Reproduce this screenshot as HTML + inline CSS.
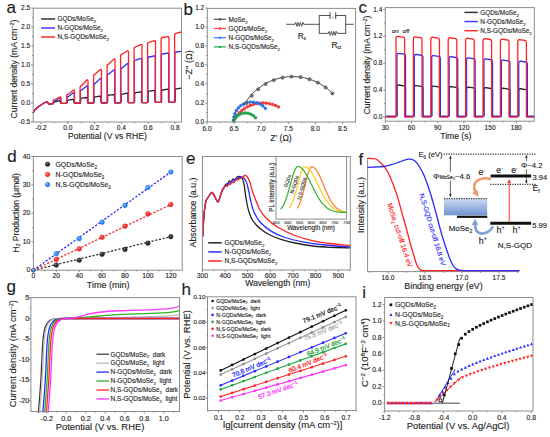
<!DOCTYPE html>
<html><head><meta charset="utf-8"><style>
html,body{margin:0;padding:0;background:#fff;}
svg{display:block;}
text{font-family:"Liberation Sans",sans-serif;}
</style></head><body>
<svg width="550" height="437" viewBox="0 0 550 437">
<rect width="550" height="437" fill="#fff"/>
<g id="a">
<text x="6.5" y="13.3" font-size="17" text-anchor="start" fill="#1e1e1e"  stroke="#1e1e1e" stroke-width="0.13">a</text>
<line x1="31.2" y1="122" x2="33.2" y2="122" stroke="#8c8c8c" stroke-width="1" />
<text x="30.2" y="124.1" font-size="6.6" text-anchor="end" fill="#1e1e1e"  stroke="#1e1e1e" stroke-width="0.13">-0.5</text>
<line x1="31.2" y1="103" x2="33.2" y2="103" stroke="#8c8c8c" stroke-width="1" />
<text x="30.2" y="105.1" font-size="6.6" text-anchor="end" fill="#1e1e1e"  stroke="#1e1e1e" stroke-width="0.13">0.0</text>
<line x1="31.2" y1="84" x2="33.2" y2="84" stroke="#8c8c8c" stroke-width="1" />
<text x="30.2" y="86.1" font-size="6.6" text-anchor="end" fill="#1e1e1e"  stroke="#1e1e1e" stroke-width="0.13">0.5</text>
<line x1="31.2" y1="65" x2="33.2" y2="65" stroke="#8c8c8c" stroke-width="1" />
<text x="30.2" y="67.1" font-size="6.6" text-anchor="end" fill="#1e1e1e"  stroke="#1e1e1e" stroke-width="0.13">1.0</text>
<line x1="31.2" y1="46" x2="33.2" y2="46" stroke="#8c8c8c" stroke-width="1" />
<text x="30.2" y="48.1" font-size="6.6" text-anchor="end" fill="#1e1e1e"  stroke="#1e1e1e" stroke-width="0.13">1.5</text>
<line x1="31.2" y1="27" x2="33.2" y2="27" stroke="#8c8c8c" stroke-width="1" />
<text x="30.2" y="29.1" font-size="6.6" text-anchor="end" fill="#1e1e1e"  stroke="#1e1e1e" stroke-width="0.13">2.0</text>
<line x1="31.2" y1="8" x2="33.2" y2="8" stroke="#8c8c8c" stroke-width="1" />
<text x="30.2" y="10.1" font-size="6.6" text-anchor="end" fill="#1e1e1e"  stroke="#1e1e1e" stroke-width="0.13">2.5</text>
<line x1="32" y1="112.5" x2="33.2" y2="112.5" stroke="#8c8c8c" stroke-width="1" />
<line x1="32" y1="93.5" x2="33.2" y2="93.5" stroke="#8c8c8c" stroke-width="1" />
<line x1="32" y1="74.5" x2="33.2" y2="74.5" stroke="#8c8c8c" stroke-width="1" />
<line x1="32" y1="55.5" x2="33.2" y2="55.5" stroke="#8c8c8c" stroke-width="1" />
<line x1="32" y1="36.5" x2="33.2" y2="36.5" stroke="#8c8c8c" stroke-width="1" />
<line x1="32" y1="17.5" x2="33.2" y2="17.5" stroke="#8c8c8c" stroke-width="1" />
<line x1="41" y1="122" x2="41" y2="124" stroke="#8c8c8c" stroke-width="1" />
<text x="41" y="130.2" font-size="6.6" text-anchor="middle" fill="#1e1e1e"  stroke="#1e1e1e" stroke-width="0.13">-0.2</text>
<line x1="67.8" y1="122" x2="67.8" y2="124" stroke="#8c8c8c" stroke-width="1" />
<text x="67.8" y="130.2" font-size="6.6" text-anchor="middle" fill="#1e1e1e"  stroke="#1e1e1e" stroke-width="0.13">0.0</text>
<line x1="94.6" y1="122" x2="94.6" y2="124" stroke="#8c8c8c" stroke-width="1" />
<text x="94.6" y="130.2" font-size="6.6" text-anchor="middle" fill="#1e1e1e"  stroke="#1e1e1e" stroke-width="0.13">0.2</text>
<line x1="121.4" y1="122" x2="121.4" y2="124" stroke="#8c8c8c" stroke-width="1" />
<text x="121.4" y="130.2" font-size="6.6" text-anchor="middle" fill="#1e1e1e"  stroke="#1e1e1e" stroke-width="0.13">0.4</text>
<line x1="148.2" y1="122" x2="148.2" y2="124" stroke="#8c8c8c" stroke-width="1" />
<text x="148.2" y="130.2" font-size="6.6" text-anchor="middle" fill="#1e1e1e"  stroke="#1e1e1e" stroke-width="0.13">0.6</text>
<line x1="175" y1="122" x2="175" y2="124" stroke="#8c8c8c" stroke-width="1" />
<text x="175" y="130.2" font-size="6.6" text-anchor="middle" fill="#1e1e1e"  stroke="#1e1e1e" stroke-width="0.13">0.8</text>
<line x1="54.4" y1="122" x2="54.4" y2="123.2" stroke="#8c8c8c" stroke-width="1" />
<line x1="81.2" y1="122" x2="81.2" y2="123.2" stroke="#8c8c8c" stroke-width="1" />
<line x1="108" y1="122" x2="108" y2="123.2" stroke="#8c8c8c" stroke-width="1" />
<line x1="134.8" y1="122" x2="134.8" y2="123.2" stroke="#8c8c8c" stroke-width="1" />
<line x1="161.6" y1="122" x2="161.6" y2="123.2" stroke="#8c8c8c" stroke-width="1" />
<text transform="translate(17,69) rotate(-90)" font-size="8.6" text-anchor="middle" fill="#1e1e1e" stroke="#1e1e1e" stroke-width="0.13">Current density (mA cm<tspan dy="-3" font-size="5.5">−2</tspan><tspan dy="3">)</tspan></text>
<text x="68" y="139.1" font-size="8.6" text-anchor="start" fill="#1e1e1e"  stroke="#1e1e1e" stroke-width="0.13">Potential (V vs RHE)</text>
<polyline points="33.4,112.6 35,109.8 38,107 41,105 44,103 47.2,101.6 48.8,104.2 53.3,103.6 53.6,102.4 53.6,103.1 54.1,102.1 54.9,101.9 59.6,100.7 60.3,101.2 60.5,102.1 60.5,102.4 61,103.4 61.4,103.4 66.2,103.33 66.7,103.3 67.1,102.26 67.1,101.4 67.6,100.4 68.4,100.2 73.1,99.3 73.8,99.8 74,100.7 74,102.26 74.5,103.26 74.9,103.26 79.7,103.19 80.2,103.16 80.6,102.12 80.6,99.4 81.1,98.4 81.9,98.2 86.6,97.5 87.3,98 87.5,98.9 87.5,102.12 88,103.12 88.4,103.12 93.2,103.05 93.7,103.02 94.1,101.98 94.1,98 94.6,97 95.4,96.8 100.1,96.1 100.8,96.6 101,97.5 101,101.98 101.5,102.98 101.9,102.98 106.7,102.91 107.2,102.88 107.6,101.84 107.6,96.4 108.1,95.4 108.9,95.2 113.6,94.6 114.3,95.1 114.5,96 114.5,101.84 115,102.84 115.4,102.84 120.2,102.77 120.7,102.74 121.1,101.7 121.1,95.3 121.6,94.3 122.4,94.1 127.1,93.2 127.8,93.7 128,94.6 128,101.7 128.5,102.7 128.9,102.7 133.7,102.63 134.2,102.6 134.6,101.56 134.6,93.9 135.1,92.9 135.9,92.7 140.6,91.8 141.3,92.3 141.5,93.2 141.5,101.56 142,102.56 142.4,102.56 147.2,102.49 147.7,102.46 148.1,101.42 148.1,92.4 148.6,91.4 149.4,91.2 154.1,90.3 154.8,90.8 155,91.7 155,101.42 155.5,102.42 155.9,102.42 160.7,102.35 161.2,102.32 161.6,101.28 161.6,91.2 162.1,90.2 162.9,90 167.6,89.2 168.3,89.7 168.5,90.6 168.5,101.28 169,102.28 169.4,102.28 174.2,102.21 174.7,102.18 175.1,101.14 175.1,90.1 175.6,89.1 176.4,88.9 181.3,88.1" fill="none" stroke="#222" stroke-width="1.3" stroke-linejoin="round" stroke-linecap="round" />
<polyline points="33.4,112.6 35,109.8 38,107 41,105 44,103 47.2,101.6 48.8,104.2 53.3,103.6 53.35,102.4 53.35,102.4 53.85,101.4 54.65,101.2 59.85,98.3 60.55,98.8 60.75,99.7 60.75,102.4 61.25,103.4 61.65,103.4 65.95,103.33 66.45,103.3 66.85,102.26 66.85,97.9 67.35,96.9 68.15,96.7 73.35,92.7 74.05,93.2 74.25,94.1 74.25,102.26 74.75,103.26 75.15,103.26 79.45,103.19 79.95,103.16 80.35,102.12 80.35,91.2 80.85,90.2 81.65,90 86.85,85.9 87.55,86.4 87.75,87.3 87.75,102.12 88.25,103.12 88.65,103.12 92.95,103.05 93.45,103.02 93.85,101.98 93.85,84.7 94.35,83.7 95.15,83.5 100.35,78.4 101.05,78.9 101.25,79.8 101.25,101.98 101.75,102.98 102.15,102.98 106.45,102.91 106.95,102.88 107.35,101.84 107.35,75.2 107.85,74.2 108.65,74 113.85,69.9 114.55,70.4 114.75,71.3 114.75,101.84 115.25,102.84 115.65,102.84 119.95,102.77 120.45,102.74 120.85,101.7 120.85,69.2 121.35,68.2 122.15,68 127.35,63.5 128.05,64 128.25,64.9 128.25,101.7 128.75,102.7 129.15,102.7 133.45,102.63 133.95,102.6 134.35,101.56 134.35,61.3 134.85,60.3 135.65,60.1 140.85,58.4 141.55,58.9 141.75,59.8 141.75,101.56 142.25,102.56 142.65,102.56 146.95,102.49 147.45,102.46 147.85,101.42 147.85,58.2 148.35,57.2 149.15,57 154.35,55.8 155.05,56.3 155.25,57.2 155.25,101.42 155.75,102.42 156.15,102.42 160.45,102.35 160.95,102.32 161.35,101.28 161.35,55.2 161.85,54.2 162.65,54 167.85,53.1 168.55,53.6 168.75,54.5 168.75,101.28 169.25,102.28 169.65,102.28 173.95,102.21 174.45,102.18 174.85,101.14 174.85,53.2 175.35,52.2 176.15,52 181.3,51.3" fill="none" stroke="#2b2bff" stroke-width="1.3" stroke-linejoin="round" stroke-linecap="round" />
<polyline points="33.4,112.6 35,109.8 38,107 41,105 44,103 47.2,101.6 48.8,104.2 53.3,103.6 53.1,102.4 53.1,101 53.6,100 54.4,99.8 60.1,96.7 60.8,97.2 61,98.1 61,102.4 61.5,103.4 61.9,103.4 65.7,103.33 66.2,103.3 66.6,102.26 66.6,95.6 67.1,94.6 67.9,94.4 73.6,89.9 74.3,90.4 74.5,91.3 74.5,102.26 75,103.26 75.4,103.26 79.2,103.19 79.7,103.16 80.1,102.12 80.1,87 80.6,86 81.4,85.8 87.1,79.8 87.8,80.3 88,81.2 88,102.12 88.5,103.12 88.9,103.12 92.7,103.05 93.2,103.02 93.6,101.98 93.6,75.5 94.1,74.5 94.9,74.3 100.6,69.3 101.3,69.8 101.5,70.7 101.5,101.98 102,102.98 102.4,102.98 106.2,102.91 106.7,102.88 107.1,101.84 107.1,65.5 107.6,64.5 108.4,64.3 114.1,58.9 114.8,59.4 115,60.3 115,101.84 115.5,102.84 115.9,102.84 119.7,102.77 120.2,102.74 120.6,101.7 120.6,55.5 121.1,54.5 121.9,54.3 127.6,50.7 128.3,51.2 128.5,52.1 128.5,101.7 129,102.7 129.4,102.7 133.2,102.63 133.7,102.6 134.1,101.56 134.1,48.2 134.6,47.2 135.4,47 141.1,44.3 141.8,44.8 142,45.7 142,101.56 142.5,102.56 142.9,102.56 146.7,102.49 147.2,102.46 147.6,101.42 147.6,43.6 148.1,42.6 148.9,42.4 154.6,40.6 155.3,41.1 155.5,42 155.5,101.42 156,102.42 156.4,102.42 160.2,102.35 160.7,102.32 161.1,101.28 161.1,38.7 161.6,37.7 162.4,37.5 168.1,36.6 168.8,37.1 169,38 169,101.28 169.5,102.28 169.9,102.28 173.7,102.21 174.2,102.18 174.6,101.14 174.6,34.6 175.1,33.6 175.9,33.4 181.3,32" fill="none" stroke="#ff2222" stroke-width="1.3" stroke-linejoin="round" stroke-linecap="round" />
<rect x="33.2" y="8.2" width="148.3" height="113.8" fill="none" stroke="#8c8c8c" stroke-width="1"/>
<line x1="41.1" y1="19" x2="55.1" y2="19" stroke="#333" stroke-width="1.5" />
<text x="57.5" y="21.3" font-size="6.4" fill="#1e1e1e" stroke="#1e1e1e" stroke-width="0.13">GQDs/MoSe<tspan dy="1.9" font-size="4.4">2</tspan></text>
<line x1="41.1" y1="28" x2="55.1" y2="28" stroke="#3b3bff" stroke-width="1.5" />
<text x="57.5" y="30.3" font-size="6.4" fill="#1e1e1e" stroke="#1e1e1e" stroke-width="0.13">N-GQDs/MoSe<tspan dy="1.9" font-size="4.4">2</tspan></text>
<line x1="41.1" y1="37" x2="55.1" y2="37" stroke="#ff2a2a" stroke-width="1.5" />
<text x="57.5" y="39.3" font-size="6.4" fill="#1e1e1e" stroke="#1e1e1e" stroke-width="0.13">N,S-GQDs/MoSe<tspan dy="1.9" font-size="4.4">2</tspan></text>
</g>
<g id="b">
<text x="183.5" y="15.3" font-size="17" text-anchor="start" fill="#1e1e1e"  stroke="#1e1e1e" stroke-width="0.13">b</text>
<line x1="205.3" y1="122" x2="207.3" y2="122" stroke="#8c8c8c" stroke-width="1" />
<text x="204.3" y="124.1" font-size="6.6" text-anchor="end" fill="#1e1e1e"  stroke="#1e1e1e" stroke-width="0.13">0.0</text>
<line x1="205.3" y1="103" x2="207.3" y2="103" stroke="#8c8c8c" stroke-width="1" />
<text x="204.3" y="105.1" font-size="6.6" text-anchor="end" fill="#1e1e1e"  stroke="#1e1e1e" stroke-width="0.13">0.2</text>
<line x1="205.3" y1="84" x2="207.3" y2="84" stroke="#8c8c8c" stroke-width="1" />
<text x="204.3" y="86.1" font-size="6.6" text-anchor="end" fill="#1e1e1e"  stroke="#1e1e1e" stroke-width="0.13">0.4</text>
<line x1="205.3" y1="65" x2="207.3" y2="65" stroke="#8c8c8c" stroke-width="1" />
<text x="204.3" y="67.1" font-size="6.6" text-anchor="end" fill="#1e1e1e"  stroke="#1e1e1e" stroke-width="0.13">0.6</text>
<line x1="205.3" y1="46" x2="207.3" y2="46" stroke="#8c8c8c" stroke-width="1" />
<text x="204.3" y="48.1" font-size="6.6" text-anchor="end" fill="#1e1e1e"  stroke="#1e1e1e" stroke-width="0.13">0.8</text>
<line x1="205.3" y1="27" x2="207.3" y2="27" stroke="#8c8c8c" stroke-width="1" />
<text x="204.3" y="29.1" font-size="6.6" text-anchor="end" fill="#1e1e1e"  stroke="#1e1e1e" stroke-width="0.13">1.0</text>
<line x1="205.3" y1="8" x2="207.3" y2="8" stroke="#8c8c8c" stroke-width="1" />
<text x="204.3" y="10.1" font-size="6.6" text-anchor="end" fill="#1e1e1e"  stroke="#1e1e1e" stroke-width="0.13">1.2</text>
<line x1="206.1" y1="112.5" x2="207.3" y2="112.5" stroke="#8c8c8c" stroke-width="1" />
<line x1="206.1" y1="93.5" x2="207.3" y2="93.5" stroke="#8c8c8c" stroke-width="1" />
<line x1="206.1" y1="74.5" x2="207.3" y2="74.5" stroke="#8c8c8c" stroke-width="1" />
<line x1="206.1" y1="55.5" x2="207.3" y2="55.5" stroke="#8c8c8c" stroke-width="1" />
<line x1="206.1" y1="36.5" x2="207.3" y2="36.5" stroke="#8c8c8c" stroke-width="1" />
<line x1="206.1" y1="17.5" x2="207.3" y2="17.5" stroke="#8c8c8c" stroke-width="1" />
<line x1="207" y1="122" x2="207" y2="124" stroke="#8c8c8c" stroke-width="1" />
<text x="207" y="131" font-size="6.6" text-anchor="middle" fill="#1e1e1e"  stroke="#1e1e1e" stroke-width="0.13">6.0</text>
<line x1="234.1" y1="122" x2="234.1" y2="124" stroke="#8c8c8c" stroke-width="1" />
<text x="234.1" y="131" font-size="6.6" text-anchor="middle" fill="#1e1e1e"  stroke="#1e1e1e" stroke-width="0.13">6.5</text>
<line x1="261.2" y1="122" x2="261.2" y2="124" stroke="#8c8c8c" stroke-width="1" />
<text x="261.2" y="131" font-size="6.6" text-anchor="middle" fill="#1e1e1e"  stroke="#1e1e1e" stroke-width="0.13">7.0</text>
<line x1="288.3" y1="122" x2="288.3" y2="124" stroke="#8c8c8c" stroke-width="1" />
<text x="288.3" y="131" font-size="6.6" text-anchor="middle" fill="#1e1e1e"  stroke="#1e1e1e" stroke-width="0.13">7.5</text>
<line x1="315.4" y1="122" x2="315.4" y2="124" stroke="#8c8c8c" stroke-width="1" />
<text x="315.4" y="131" font-size="6.6" text-anchor="middle" fill="#1e1e1e"  stroke="#1e1e1e" stroke-width="0.13">8.0</text>
<line x1="342.5" y1="122" x2="342.5" y2="124" stroke="#8c8c8c" stroke-width="1" />
<text x="342.5" y="131" font-size="6.6" text-anchor="middle" fill="#1e1e1e"  stroke="#1e1e1e" stroke-width="0.13">8.5</text>
<line x1="220.55" y1="122" x2="220.55" y2="123.2" stroke="#8c8c8c" stroke-width="1" />
<line x1="247.65" y1="122" x2="247.65" y2="123.2" stroke="#8c8c8c" stroke-width="1" />
<line x1="274.75" y1="122" x2="274.75" y2="123.2" stroke="#8c8c8c" stroke-width="1" />
<line x1="301.85" y1="122" x2="301.85" y2="123.2" stroke="#8c8c8c" stroke-width="1" />
<line x1="328.95" y1="122" x2="328.95" y2="123.2" stroke="#8c8c8c" stroke-width="1" />
<text transform="translate(192.3,65) rotate(-90)" font-size="9" text-anchor="middle" fill="#1e1e1e" stroke="#1e1e1e" stroke-width="0.13">−Z'' (Ω)</text>
<text x="281" y="141" font-size="8.6" text-anchor="middle" fill="#1e1e1e"  stroke="#1e1e1e" stroke-width="0.13">Z' (Ω)</text>
<polyline points="233.7,120.5 235.37,117.71 237.31,115.1 239.49,112.7 241.89,110.52 244.5,108.58 247.29,106.91 250.23,105.52 253.28,104.43 256.44,103.64 259.65,103.16 262.89,103 266.14,103.16 269.35,103.63 272.5,104.42 275.56,105.51 278.5,106.9" fill="none" stroke="#ff4040" stroke-width="1.0" stroke-linejoin="round" stroke-linecap="round" />
<circle cx="233.7" cy="120.5" r="1.4" fill="#ff4040" stroke="#cc2020" stroke-width="0.5"/>
<circle cx="235.37" cy="117.71" r="1.4" fill="#ff4040" stroke="#cc2020" stroke-width="0.5"/>
<circle cx="237.31" cy="115.1" r="1.4" fill="#ff4040" stroke="#cc2020" stroke-width="0.5"/>
<circle cx="239.49" cy="112.7" r="1.4" fill="#ff4040" stroke="#cc2020" stroke-width="0.5"/>
<circle cx="241.89" cy="110.52" r="1.4" fill="#ff4040" stroke="#cc2020" stroke-width="0.5"/>
<circle cx="244.5" cy="108.58" r="1.4" fill="#ff4040" stroke="#cc2020" stroke-width="0.5"/>
<circle cx="247.29" cy="106.91" r="1.4" fill="#ff4040" stroke="#cc2020" stroke-width="0.5"/>
<circle cx="250.23" cy="105.52" r="1.4" fill="#ff4040" stroke="#cc2020" stroke-width="0.5"/>
<circle cx="253.28" cy="104.43" r="1.4" fill="#ff4040" stroke="#cc2020" stroke-width="0.5"/>
<circle cx="256.44" cy="103.64" r="1.4" fill="#ff4040" stroke="#cc2020" stroke-width="0.5"/>
<circle cx="259.65" cy="103.16" r="1.4" fill="#ff4040" stroke="#cc2020" stroke-width="0.5"/>
<circle cx="262.89" cy="103" r="1.4" fill="#ff4040" stroke="#cc2020" stroke-width="0.5"/>
<circle cx="266.14" cy="103.16" r="1.4" fill="#ff4040" stroke="#cc2020" stroke-width="0.5"/>
<circle cx="269.35" cy="103.63" r="1.4" fill="#ff4040" stroke="#cc2020" stroke-width="0.5"/>
<circle cx="272.5" cy="104.42" r="1.4" fill="#ff4040" stroke="#cc2020" stroke-width="0.5"/>
<circle cx="275.56" cy="105.51" r="1.4" fill="#ff4040" stroke="#cc2020" stroke-width="0.5"/>
<circle cx="278.5" cy="106.9" r="1.4" fill="#ff4040" stroke="#cc2020" stroke-width="0.5"/>
<polyline points="233.7,120.5 233.93,117.1 234.79,113.8 236.26,110.73 238.29,107.99 240.79,105.68 243.69,103.88 246.88,102.67 250.23,102.07 253.64,102.13 256.98,102.82 260.12,104.13 262.97,106.01 265.4,108.4" fill="none" stroke="#2f7fff" stroke-width="1.0" stroke-linejoin="round" stroke-linecap="round" />
<circle cx="233.7" cy="120.5" r="1.4" fill="#2f7fff" stroke="#1050d0" stroke-width="0.5"/>
<circle cx="233.93" cy="117.1" r="1.4" fill="#2f7fff" stroke="#1050d0" stroke-width="0.5"/>
<circle cx="234.79" cy="113.8" r="1.4" fill="#2f7fff" stroke="#1050d0" stroke-width="0.5"/>
<circle cx="236.26" cy="110.73" r="1.4" fill="#2f7fff" stroke="#1050d0" stroke-width="0.5"/>
<circle cx="238.29" cy="107.99" r="1.4" fill="#2f7fff" stroke="#1050d0" stroke-width="0.5"/>
<circle cx="240.79" cy="105.68" r="1.4" fill="#2f7fff" stroke="#1050d0" stroke-width="0.5"/>
<circle cx="243.69" cy="103.88" r="1.4" fill="#2f7fff" stroke="#1050d0" stroke-width="0.5"/>
<circle cx="246.88" cy="102.67" r="1.4" fill="#2f7fff" stroke="#1050d0" stroke-width="0.5"/>
<circle cx="250.23" cy="102.07" r="1.4" fill="#2f7fff" stroke="#1050d0" stroke-width="0.5"/>
<circle cx="253.64" cy="102.13" r="1.4" fill="#2f7fff" stroke="#1050d0" stroke-width="0.5"/>
<circle cx="256.98" cy="102.82" r="1.4" fill="#2f7fff" stroke="#1050d0" stroke-width="0.5"/>
<circle cx="260.12" cy="104.13" r="1.4" fill="#2f7fff" stroke="#1050d0" stroke-width="0.5"/>
<circle cx="262.97" cy="106.01" r="1.4" fill="#2f7fff" stroke="#1050d0" stroke-width="0.5"/>
<circle cx="265.4" cy="108.4" r="1.4" fill="#2f7fff" stroke="#1050d0" stroke-width="0.5"/>
<polyline points="233.7,121 235.11,118.41 237.07,116.21 239.49,114.52 242.23,113.43 245.15,113 248.09,113.26 250.89,114.18 253.41,115.72 255.5,117.8" fill="none" stroke="#22aa55" stroke-width="1.0" stroke-linejoin="round" stroke-linecap="round" />
<circle cx="233.7" cy="121" r="1.4" fill="#22aa55" stroke="#118833" stroke-width="0.5"/>
<circle cx="235.11" cy="118.41" r="1.4" fill="#22aa55" stroke="#118833" stroke-width="0.5"/>
<circle cx="237.07" cy="116.21" r="1.4" fill="#22aa55" stroke="#118833" stroke-width="0.5"/>
<circle cx="239.49" cy="114.52" r="1.4" fill="#22aa55" stroke="#118833" stroke-width="0.5"/>
<circle cx="242.23" cy="113.43" r="1.4" fill="#22aa55" stroke="#118833" stroke-width="0.5"/>
<circle cx="245.15" cy="113" r="1.4" fill="#22aa55" stroke="#118833" stroke-width="0.5"/>
<circle cx="248.09" cy="113.26" r="1.4" fill="#22aa55" stroke="#118833" stroke-width="0.5"/>
<circle cx="250.89" cy="114.18" r="1.4" fill="#22aa55" stroke="#118833" stroke-width="0.5"/>
<circle cx="253.41" cy="115.72" r="1.4" fill="#22aa55" stroke="#118833" stroke-width="0.5"/>
<circle cx="255.5" cy="117.8" r="1.4" fill="#22aa55" stroke="#118833" stroke-width="0.5"/>
<polyline points="243.5,106 244.82,103.67 246.25,101.4 247.79,99.21 249.43,97.09 251.17,95.06 253.01,93.11 254.93,91.25 256.95,89.48 259.05,87.82 261.23,86.26 263.48,84.8 265.79,83.46 268.17,82.22 270.61,81.11 273.09,80.11 275.62,79.23 278.19,78.48 280.8,77.85 283.43,77.35 286.08,76.97 288.75,76.72 291.43,76.61 294.1,76.61 296.78,76.75 299.44,77.02 302.09,77.42 304.72,77.94 307.32,78.59 309.89,79.36 312.41,80.26 314.89,81.27 317.32,82.41 319.69,83.66 321.99,85.02 324.23,86.49 326.4,88.07 328.48,89.75 330.48,91.53 332.4,93.4" fill="none" stroke="#444" stroke-width="1.0" stroke-linejoin="round" stroke-linecap="round" />
<circle cx="246.4" cy="103" r="1.6" fill="#777" stroke="#333" stroke-width="0.5"/>
<circle cx="251.72" cy="95.64" r="1.6" fill="#777" stroke="#333" stroke-width="0.5"/>
<circle cx="258.18" cy="89.26" r="1.6" fill="#777" stroke="#333" stroke-width="0.5"/>
<circle cx="265.61" cy="84.05" r="1.6" fill="#777" stroke="#333" stroke-width="0.5"/>
<circle cx="273.81" cy="80.14" r="1.6" fill="#777" stroke="#333" stroke-width="0.5"/>
<circle cx="282.54" cy="77.65" r="1.6" fill="#777" stroke="#333" stroke-width="0.5"/>
<circle cx="291.56" cy="76.64" r="1.6" fill="#777" stroke="#333" stroke-width="0.5"/>
<circle cx="300.63" cy="77.15" r="1.6" fill="#777" stroke="#333" stroke-width="0.5"/>
<circle cx="309.48" cy="79.15" r="1.6" fill="#777" stroke="#333" stroke-width="0.5"/>
<circle cx="317.88" cy="82.6" r="1.6" fill="#777" stroke="#333" stroke-width="0.5"/>
<circle cx="325.59" cy="87.39" r="1.6" fill="#777" stroke="#333" stroke-width="0.5"/>
<circle cx="332.4" cy="93.4" r="1.6" fill="#777" stroke="#333" stroke-width="0.5"/>
<rect x="207.3" y="8.4" width="148.3" height="113.6" fill="none" stroke="#8c8c8c" stroke-width="1"/>
<line x1="213.7" y1="19.3" x2="226.1" y2="19.3" stroke="#555" stroke-width="1.2" />
<circle cx="220" cy="19.3" r="1.2" fill="#555"/>
<text x="228.6" y="21.6" font-size="6.4" fill="#1e1e1e" stroke="#1e1e1e" stroke-width="0.13">MoSe<tspan dy="1.9" font-size="4.4">2</tspan></text>
<line x1="213.7" y1="28.5" x2="226.1" y2="28.5" stroke="#ff4040" stroke-width="1.2" />
<circle cx="220" cy="28.5" r="1.2" fill="#ff4040"/>
<text x="228.6" y="30.8" font-size="6.4" fill="#1e1e1e" stroke="#1e1e1e" stroke-width="0.13">GQDs/MoSe<tspan dy="1.9" font-size="4.4">2</tspan></text>
<line x1="213.7" y1="37.7" x2="226.1" y2="37.7" stroke="#2f7fff" stroke-width="1.2" />
<circle cx="220" cy="37.7" r="1.2" fill="#2f7fff"/>
<text x="228.6" y="40" font-size="6.4" fill="#1e1e1e" stroke="#1e1e1e" stroke-width="0.13">N-GQDs/MoSe<tspan dy="1.9" font-size="4.4">2</tspan></text>
<line x1="213.7" y1="46.9" x2="226.1" y2="46.9" stroke="#22aa55" stroke-width="1.2" />
<circle cx="220" cy="46.9" r="1.2" fill="#22aa55"/>
<text x="228.6" y="49.2" font-size="6.4" fill="#1e1e1e" stroke="#1e1e1e" stroke-width="0.13">N,S-GQDs/MoSe<tspan dy="1.9" font-size="4.4">2</tspan></text>
<polyline points="286.5,24.3 294.5,24.3" fill="none" stroke="#555" stroke-width="1.0" stroke-linejoin="round" stroke-linecap="round" />
<polyline points="294.5,24.3 295.69,22.3 296.88,26.3 298.06,22.3 299.25,26.3 300.44,22.3 301.62,26.3 302.81,22.3 304,24.3" fill="none" stroke="#555" stroke-width="1.0" stroke-linejoin="round" stroke-linecap="round" />
<polyline points="304,24.3 319.3,24.3" fill="none" stroke="#555" stroke-width="1.0" stroke-linejoin="round" stroke-linecap="round" />
<polyline points="319.3,15.5 319.3,33.4" fill="none" stroke="#555" stroke-width="1.0" stroke-linejoin="round" stroke-linecap="round" />
<polyline points="345.7,15.5 345.7,33.4" fill="none" stroke="#555" stroke-width="1.0" stroke-linejoin="round" stroke-linecap="round" />
<polyline points="319.3,15.5 330,15.5" fill="none" stroke="#555" stroke-width="1.0" stroke-linejoin="round" stroke-linecap="round" />
<polyline points="335.7,15.5 345.7,15.5" fill="none" stroke="#555" stroke-width="1.0" stroke-linejoin="round" stroke-linecap="round" />
<polyline points="330,12.8 330,18.5" fill="none" stroke="#555" stroke-width="1.1" stroke-linejoin="round" stroke-linecap="round" />
<polyline points="335.7,12.8 335.7,18.5" fill="none" stroke="#555" stroke-width="1.1" stroke-linejoin="round" stroke-linecap="round" />
<polyline points="332.2,17.6 333.6,17.6" fill="none" stroke="#888" stroke-width="0.7" stroke-linejoin="round" stroke-linecap="round" />
<polyline points="319.3,33.4 328,33.4" fill="none" stroke="#555" stroke-width="1.0" stroke-linejoin="round" stroke-linecap="round" />
<polyline points="328,33.4 329.19,31.4 330.38,35.4 331.56,31.4 332.75,35.4 333.94,31.4 335.12,35.4 336.31,31.4 337.5,33.4" fill="none" stroke="#555" stroke-width="1.0" stroke-linejoin="round" stroke-linecap="round" />
<polyline points="337.5,33.4 345.7,33.4" fill="none" stroke="#555" stroke-width="1.0" stroke-linejoin="round" stroke-linecap="round" />
<polyline points="345.7,24.3 353.5,24.3" fill="none" stroke="#555" stroke-width="1.0" stroke-linejoin="round" stroke-linecap="round" />
<text x="297.8" y="38.6" font-size="8.4" fill="#1e1e1e" stroke="#1e1e1e" stroke-width="0.13">R<tspan dy="1.8" font-size="4.5">s</tspan></text>
<text x="331.5" y="47.6" font-size="8.4" fill="#1e1e1e" stroke="#1e1e1e" stroke-width="0.13">R<tspan dy="1.8" font-size="4.5">ct</tspan></text>
</g>
<g id="c">
<text x="358.5" y="12.5" font-size="17" text-anchor="start" fill="#1e1e1e"  stroke="#1e1e1e" stroke-width="0.13">c</text>
<line x1="383.3" y1="117" x2="385.3" y2="117" stroke="#8c8c8c" stroke-width="1" />
<text x="382.3" y="119.1" font-size="6.5" text-anchor="end" fill="#1e1e1e"  stroke="#1e1e1e" stroke-width="0.13">0.0</text>
<line x1="383.3" y1="90.1" x2="385.3" y2="90.1" stroke="#8c8c8c" stroke-width="1" />
<text x="382.3" y="92.2" font-size="6.5" text-anchor="end" fill="#1e1e1e"  stroke="#1e1e1e" stroke-width="0.13">0.4</text>
<line x1="383.3" y1="63.2" x2="385.3" y2="63.2" stroke="#8c8c8c" stroke-width="1" />
<text x="382.3" y="65.3" font-size="6.5" text-anchor="end" fill="#1e1e1e"  stroke="#1e1e1e" stroke-width="0.13">0.8</text>
<line x1="383.3" y1="36.3" x2="385.3" y2="36.3" stroke="#8c8c8c" stroke-width="1" />
<text x="382.3" y="38.4" font-size="6.5" text-anchor="end" fill="#1e1e1e"  stroke="#1e1e1e" stroke-width="0.13">1.2</text>
<line x1="383.3" y1="9.4" x2="385.3" y2="9.4" stroke="#8c8c8c" stroke-width="1" />
<text x="382.3" y="11.5" font-size="6.5" text-anchor="end" fill="#1e1e1e"  stroke="#1e1e1e" stroke-width="0.13">1.4</text>
<line x1="384.1" y1="103.55" x2="385.3" y2="103.55" stroke="#8c8c8c" stroke-width="1" />
<line x1="384.1" y1="76.65" x2="385.3" y2="76.65" stroke="#8c8c8c" stroke-width="1" />
<line x1="384.1" y1="49.75" x2="385.3" y2="49.75" stroke="#8c8c8c" stroke-width="1" />
<line x1="384.1" y1="22.85" x2="385.3" y2="22.85" stroke="#8c8c8c" stroke-width="1" />
<line x1="385.3" y1="121.2" x2="385.3" y2="123.2" stroke="#8c8c8c" stroke-width="1" />
<text x="385.3" y="130.3" font-size="6.6" text-anchor="middle" fill="#1e1e1e"  stroke="#1e1e1e" stroke-width="0.13">30</text>
<line x1="411.5" y1="121.2" x2="411.5" y2="123.2" stroke="#8c8c8c" stroke-width="1" />
<text x="411.5" y="130.3" font-size="6.6" text-anchor="middle" fill="#1e1e1e"  stroke="#1e1e1e" stroke-width="0.13">60</text>
<line x1="437.7" y1="121.2" x2="437.7" y2="123.2" stroke="#8c8c8c" stroke-width="1" />
<text x="437.7" y="130.3" font-size="6.6" text-anchor="middle" fill="#1e1e1e"  stroke="#1e1e1e" stroke-width="0.13">90</text>
<line x1="463.9" y1="121.2" x2="463.9" y2="123.2" stroke="#8c8c8c" stroke-width="1" />
<text x="463.9" y="130.3" font-size="6.6" text-anchor="middle" fill="#1e1e1e"  stroke="#1e1e1e" stroke-width="0.13">120</text>
<line x1="490.1" y1="121.2" x2="490.1" y2="123.2" stroke="#8c8c8c" stroke-width="1" />
<text x="490.1" y="130.3" font-size="6.6" text-anchor="middle" fill="#1e1e1e"  stroke="#1e1e1e" stroke-width="0.13">150</text>
<line x1="516.3" y1="121.2" x2="516.3" y2="123.2" stroke="#8c8c8c" stroke-width="1" />
<text x="516.3" y="130.3" font-size="6.6" text-anchor="middle" fill="#1e1e1e"  stroke="#1e1e1e" stroke-width="0.13">180</text>
<line x1="398.4" y1="121.2" x2="398.4" y2="122.4" stroke="#8c8c8c" stroke-width="1" />
<line x1="424.6" y1="121.2" x2="424.6" y2="122.4" stroke="#8c8c8c" stroke-width="1" />
<line x1="450.8" y1="121.2" x2="450.8" y2="122.4" stroke="#8c8c8c" stroke-width="1" />
<line x1="477" y1="121.2" x2="477" y2="122.4" stroke="#8c8c8c" stroke-width="1" />
<line x1="503.2" y1="121.2" x2="503.2" y2="122.4" stroke="#8c8c8c" stroke-width="1" />
<line x1="529.39" y1="121.2" x2="529.39" y2="122.4" stroke="#8c8c8c" stroke-width="1" />
<text transform="translate(369.8,65) rotate(-90)" font-size="8.6" text-anchor="middle" fill="#1e1e1e" stroke="#1e1e1e" stroke-width="0.13">Current density (mA cm<tspan dy="-3" font-size="5.5">−2</tspan><tspan dy="3">)</tspan></text>
<text x="455.8" y="139" font-size="8.6" text-anchor="middle" fill="#1e1e1e"  stroke="#1e1e1e" stroke-width="0.13">Time (s)</text>
<polyline points="385.8,116.4 396.4,116.4 396.9,115.8 396.9,86.99 397.2,85.69 397.8,85.14 398.7,84.99 403.7,85.8 404.6,85.95 405.2,86.5 405.5,87.8 405.5,115.8 406,116.4 413.8,116.4 414.3,115.8 414.3,87.53 414.6,86.23 415.2,85.68 416.1,85.53 421.1,86.33 422,86.48 422.6,87.03 422.9,88.33 422.9,115.8 423.4,116.4 431.2,116.4 431.7,115.8 431.7,88.06 432,86.77 432.6,86.22 433.5,86.06 438.5,86.87 439.4,87.02 440,87.57 440.3,88.87 440.3,115.8 440.8,116.4 448.6,116.4 449.1,115.8 449.1,88.6 449.4,87.3 450,86.75 450.9,86.6 455.9,87.41 456.8,87.56 457.4,88.11 457.7,89.41 457.7,115.8 458.2,116.4 466,116.4 466.5,115.8 466.5,89.14 466.8,87.84 467.4,87.29 468.3,87.14 473.3,87.95 474.2,88.1 474.8,88.65 475.1,89.95 475.1,115.8 475.6,116.4 483.4,116.4 483.9,115.8 483.9,89.68 484.2,88.38 484.8,87.83 485.7,87.68 490.7,88.49 491.6,88.64 492.2,89.19 492.5,90.49 492.5,115.8 493,116.4 500.8,116.4 501.3,115.8 501.3,90.22 501.6,88.92 502.2,88.37 503.1,88.22 508.1,89.02 509,89.17 509.6,89.72 509.9,91.02 509.9,115.8 510.4,116.4 518.2,116.4 518.7,115.8 518.7,90.75 519,89.45 519.6,88.91 520.5,88.75 525.5,89.56 526.4,89.71 527,90.26 527.3,91.56 527.3,115.8 527.8,116.4 533.8,116.4" fill="none" stroke="#222" stroke-width="1.3" stroke-linejoin="round" stroke-linecap="round" />
<polyline points="385.8,116.4 396.4,116.4 396.9,115.8 396.9,55.31 397.2,54.01 397.8,53.46 398.7,53.31 403.7,54.12 404.6,54.27 405.2,54.82 405.5,56.12 405.5,115.8 406,116.4 413.8,116.4 414.3,115.8 414.3,56.44 414.6,55.14 415.2,54.59 416.1,54.44 421.1,55.25 422,55.4 422.6,55.95 422.9,57.25 422.9,115.8 423.4,116.4 431.2,116.4 431.7,115.8 431.7,57.56 432,56.26 432.6,55.71 433.5,55.56 438.5,56.37 439.4,56.52 440,57.07 440.3,58.37 440.3,115.8 440.8,116.4 448.6,116.4 449.1,115.8 449.1,58.69 449.4,57.39 450,56.84 450.9,56.69 455.9,57.49 456.8,57.64 457.4,58.19 457.7,59.49 457.7,115.8 458.2,116.4 466,116.4 466.5,115.8 466.5,59.81 466.8,58.51 467.4,57.96 468.3,57.81 473.3,58.62 474.2,58.77 474.8,59.32 475.1,60.62 475.1,115.8 475.6,116.4 483.4,116.4 483.9,115.8 483.9,60.93 484.2,59.63 484.8,59.08 485.7,58.93 490.7,59.74 491.6,59.89 492.2,60.44 492.5,61.74 492.5,115.8 493,116.4 500.8,116.4 501.3,115.8 501.3,62.06 501.6,60.76 502.2,60.21 503.1,60.06 508.1,60.87 509,61.02 509.6,61.57 509.9,62.87 509.9,115.8 510.4,116.4 518.2,116.4 518.7,115.8 518.7,63.18 519,61.88 519.6,61.33 520.5,61.18 525.5,61.99 526.4,62.14 527,62.69 527.3,63.99 527.3,115.8 527.8,116.4 533.8,116.4" fill="none" stroke="#2b2bff" stroke-width="1.3" stroke-linejoin="round" stroke-linecap="round" />
<polyline points="385.8,117.2 395.5,117.2 396,116.6 396,38.3 396.3,37 396.9,36.45 397.8,36.3 402.8,37.11 403.7,37.26 404.3,37.81 404.6,39.11 404.6,116.6 405.1,117.2 412.9,117.2 413.4,116.6 413.4,38.78 413.7,37.48 414.3,36.93 415.2,36.78 420.2,37.59 421.1,37.74 421.7,38.29 422,39.59 422,116.6 422.5,117.2 430.3,117.2 430.8,116.6 430.8,39.26 431.1,37.96 431.7,37.41 432.6,37.26 437.6,38.07 438.5,38.22 439.1,38.77 439.4,40.07 439.4,116.6 439.9,117.2 447.7,117.2 448.2,116.6 448.2,39.74 448.5,38.44 449.1,37.89 450,37.74 455,38.55 455.9,38.7 456.5,39.25 456.8,40.55 456.8,116.6 457.3,117.2 465.1,117.2 465.6,116.6 465.6,40.22 465.9,38.92 466.5,38.37 467.4,38.22 472.4,39.03 473.3,39.18 473.9,39.73 474.2,41.03 474.2,116.6 474.7,117.2 482.5,117.2 483,116.6 483,40.7 483.3,39.4 483.9,38.85 484.8,38.7 489.8,39.51 490.7,39.66 491.3,40.21 491.6,41.51 491.6,116.6 492.1,117.2 499.9,117.2 500.4,116.6 500.4,41.18 500.7,39.88 501.3,39.33 502.2,39.18 507.2,39.99 508.1,40.14 508.7,40.69 509,41.99 509,116.6 509.5,117.2 517.3,117.2 517.8,116.6 517.8,41.66 518.1,40.36 518.7,39.81 519.6,39.66 524.6,40.47 525.5,40.62 526.1,41.17 526.4,42.47 526.4,116.6 526.9,117.2 533.8,117.2" fill="none" stroke="#ff2222" stroke-width="1.3" stroke-linejoin="round" stroke-linecap="round" />
<rect x="385.3" y="7.6" width="149" height="113.6" fill="none" stroke="#8c8c8c" stroke-width="1"/>
<line x1="464.4" y1="12.4" x2="477.8" y2="12.4" stroke="#333" stroke-width="1.5" />
<text x="480.3" y="14.7" font-size="6.4" fill="#1e1e1e" stroke="#1e1e1e" stroke-width="0.13">GQDs/MoSe<tspan dy="1.9" font-size="4.4">2</tspan></text>
<line x1="464.4" y1="21.55" x2="477.8" y2="21.55" stroke="#3b3bff" stroke-width="1.5" />
<text x="480.3" y="23.85" font-size="6.4" fill="#1e1e1e" stroke="#1e1e1e" stroke-width="0.13">N-GQDs/MoSe<tspan dy="1.9" font-size="4.4">2</tspan></text>
<line x1="464.4" y1="30.7" x2="477.8" y2="30.7" stroke="#ff2a2a" stroke-width="1.5" />
<text x="480.3" y="33" font-size="6.4" fill="#1e1e1e" stroke="#1e1e1e" stroke-width="0.13">N,S-GQDs/MoSe<tspan dy="1.9" font-size="4.4">2</tspan></text>
<text x="391.8" y="32.5" font-size="6.2" text-anchor="start" fill="#1e1e1e"  stroke="#1e1e1e" stroke-width="0.13">on</text>
<text x="402.5" y="32.5" font-size="6.2" text-anchor="start" fill="#1e1e1e"  stroke="#1e1e1e" stroke-width="0.13">off</text>
</g>
<g id="d">
<text x="7.2" y="162.4" font-size="17" text-anchor="start" fill="#1e1e1e"  stroke="#1e1e1e" stroke-width="0.13">d</text>
<line x1="31.4" y1="270.2" x2="33.4" y2="270.2" stroke="#8c8c8c" stroke-width="1" />
<text x="30.4" y="272.3" font-size="6.8" text-anchor="end" fill="#1e1e1e"  stroke="#1e1e1e" stroke-width="0.13">0</text>
<line x1="31.4" y1="241.77" x2="33.4" y2="241.77" stroke="#8c8c8c" stroke-width="1" />
<text x="30.4" y="243.87" font-size="6.8" text-anchor="end" fill="#1e1e1e"  stroke="#1e1e1e" stroke-width="0.13">10</text>
<line x1="31.4" y1="213.35" x2="33.4" y2="213.35" stroke="#8c8c8c" stroke-width="1" />
<text x="30.4" y="215.45" font-size="6.8" text-anchor="end" fill="#1e1e1e"  stroke="#1e1e1e" stroke-width="0.13">20</text>
<line x1="31.4" y1="184.93" x2="33.4" y2="184.93" stroke="#8c8c8c" stroke-width="1" />
<text x="30.4" y="187.03" font-size="6.8" text-anchor="end" fill="#1e1e1e"  stroke="#1e1e1e" stroke-width="0.13">30</text>
<line x1="31.4" y1="156.5" x2="33.4" y2="156.5" stroke="#8c8c8c" stroke-width="1" />
<text x="30.4" y="158.6" font-size="6.8" text-anchor="end" fill="#1e1e1e"  stroke="#1e1e1e" stroke-width="0.13">40</text>
<line x1="32.2" y1="255.99" x2="33.4" y2="255.99" stroke="#8c8c8c" stroke-width="1" />
<line x1="32.2" y1="227.56" x2="33.4" y2="227.56" stroke="#8c8c8c" stroke-width="1" />
<line x1="32.2" y1="199.14" x2="33.4" y2="199.14" stroke="#8c8c8c" stroke-width="1" />
<line x1="32.2" y1="170.71" x2="33.4" y2="170.71" stroke="#8c8c8c" stroke-width="1" />
<line x1="33.4" y1="270.2" x2="33.4" y2="272.2" stroke="#8c8c8c" stroke-width="1" />
<text x="33.4" y="278.4" font-size="6.8" text-anchor="middle" fill="#1e1e1e"  stroke="#1e1e1e" stroke-width="0.13">0</text>
<line x1="56.3" y1="270.2" x2="56.3" y2="272.2" stroke="#8c8c8c" stroke-width="1" />
<text x="56.3" y="278.4" font-size="6.8" text-anchor="middle" fill="#1e1e1e"  stroke="#1e1e1e" stroke-width="0.13">20</text>
<line x1="79.2" y1="270.2" x2="79.2" y2="272.2" stroke="#8c8c8c" stroke-width="1" />
<text x="79.2" y="278.4" font-size="6.8" text-anchor="middle" fill="#1e1e1e"  stroke="#1e1e1e" stroke-width="0.13">40</text>
<line x1="102.1" y1="270.2" x2="102.1" y2="272.2" stroke="#8c8c8c" stroke-width="1" />
<text x="102.1" y="278.4" font-size="6.8" text-anchor="middle" fill="#1e1e1e"  stroke="#1e1e1e" stroke-width="0.13">60</text>
<line x1="125" y1="270.2" x2="125" y2="272.2" stroke="#8c8c8c" stroke-width="1" />
<text x="125" y="278.4" font-size="6.8" text-anchor="middle" fill="#1e1e1e"  stroke="#1e1e1e" stroke-width="0.13">80</text>
<line x1="147.9" y1="270.2" x2="147.9" y2="272.2" stroke="#8c8c8c" stroke-width="1" />
<text x="147.9" y="278.4" font-size="6.8" text-anchor="middle" fill="#1e1e1e"  stroke="#1e1e1e" stroke-width="0.13">100</text>
<line x1="170.8" y1="270.2" x2="170.8" y2="272.2" stroke="#8c8c8c" stroke-width="1" />
<text x="170.8" y="278.4" font-size="6.8" text-anchor="middle" fill="#1e1e1e"  stroke="#1e1e1e" stroke-width="0.13">120</text>
<line x1="44.85" y1="270.2" x2="44.85" y2="271.4" stroke="#8c8c8c" stroke-width="1" />
<line x1="67.75" y1="270.2" x2="67.75" y2="271.4" stroke="#8c8c8c" stroke-width="1" />
<line x1="90.65" y1="270.2" x2="90.65" y2="271.4" stroke="#8c8c8c" stroke-width="1" />
<line x1="113.55" y1="270.2" x2="113.55" y2="271.4" stroke="#8c8c8c" stroke-width="1" />
<line x1="136.45" y1="270.2" x2="136.45" y2="271.4" stroke="#8c8c8c" stroke-width="1" />
<line x1="159.35" y1="270.2" x2="159.35" y2="271.4" stroke="#8c8c8c" stroke-width="1" />
<text transform="translate(18.5,213) rotate(-90)" font-size="8.6" text-anchor="middle" fill="#1e1e1e" stroke="#1e1e1e" stroke-width="0.13">H<tspan dy="1.8" font-size="5.5">2</tspan><tspan dy="-1.8"> Production (μmol)</tspan></text>
<text x="108.2" y="287.6" font-size="9.0" text-anchor="middle" fill="#1e1e1e"  stroke="#1e1e1e" stroke-width="0.13">Time (min)</text>
<line x1="33.4" y1="270.2" x2="170.8" y2="236.66" stroke="#333333" stroke-width="1.3" stroke-dasharray="2.2,1.6"/>
<line x1="33.4" y1="270.2" x2="170.8" y2="204.54" stroke="#ff2a2a" stroke-width="1.3" stroke-dasharray="2.2,1.6"/>
<line x1="33.4" y1="270.2" x2="170.8" y2="171.99" stroke="#2929ff" stroke-width="1.3" stroke-dasharray="2.2,1.6"/>
<circle cx="33.4" cy="270.2" r="1.9" fill="#2f2f2f" stroke="#111" stroke-width="0.4"/>
<circle cx="32.83" cy="269.53" r="0.76" fill="#888" opacity="0.7"/>
<circle cx="56.3" cy="265.08" r="2.35" fill="#2f2f2f" stroke="#111" stroke-width="0.4"/>
<circle cx="55.59" cy="264.26" r="0.94" fill="#888" opacity="0.7"/>
<circle cx="79.2" cy="260.25" r="2.35" fill="#2f2f2f" stroke="#111" stroke-width="0.4"/>
<circle cx="78.49" cy="259.43" r="0.94" fill="#888" opacity="0.7"/>
<circle cx="102.1" cy="254.28" r="2.35" fill="#2f2f2f" stroke="#111" stroke-width="0.4"/>
<circle cx="101.39" cy="253.46" r="0.94" fill="#888" opacity="0.7"/>
<circle cx="125" cy="249.45" r="2.35" fill="#2f2f2f" stroke="#111" stroke-width="0.4"/>
<circle cx="124.3" cy="248.63" r="0.94" fill="#888" opacity="0.7"/>
<circle cx="147.9" cy="243.2" r="2.35" fill="#2f2f2f" stroke="#111" stroke-width="0.4"/>
<circle cx="147.19" cy="242.37" r="0.94" fill="#888" opacity="0.7"/>
<circle cx="170.8" cy="236.66" r="2.35" fill="#2f2f2f" stroke="#111" stroke-width="0.4"/>
<circle cx="170.09" cy="235.84" r="0.94" fill="#888" opacity="0.7"/>
<circle cx="33.4" cy="270.2" r="1.9" fill="#ff3333" stroke="#b00" stroke-width="0.4"/>
<circle cx="32.83" cy="269.53" r="0.76" fill="#ffaaaa" opacity="0.7"/>
<circle cx="56.3" cy="259.4" r="2.35" fill="#ff3333" stroke="#b00" stroke-width="0.4"/>
<circle cx="55.59" cy="258.58" r="0.94" fill="#ffaaaa" opacity="0.7"/>
<circle cx="79.2" cy="248.88" r="2.35" fill="#ff3333" stroke="#b00" stroke-width="0.4"/>
<circle cx="78.49" cy="248.06" r="0.94" fill="#ffaaaa" opacity="0.7"/>
<circle cx="102.1" cy="237.23" r="2.35" fill="#ff3333" stroke="#b00" stroke-width="0.4"/>
<circle cx="101.39" cy="236.4" r="0.94" fill="#ffaaaa" opacity="0.7"/>
<circle cx="125" cy="226.14" r="2.35" fill="#ff3333" stroke="#b00" stroke-width="0.4"/>
<circle cx="124.3" cy="225.32" r="0.94" fill="#ffaaaa" opacity="0.7"/>
<circle cx="147.9" cy="213.92" r="2.35" fill="#ff3333" stroke="#b00" stroke-width="0.4"/>
<circle cx="147.19" cy="213.1" r="0.94" fill="#ffaaaa" opacity="0.7"/>
<circle cx="170.8" cy="204.54" r="2.35" fill="#ff3333" stroke="#b00" stroke-width="0.4"/>
<circle cx="170.09" cy="203.72" r="0.94" fill="#ffaaaa" opacity="0.7"/>
<circle cx="33.4" cy="270.2" r="1.9" fill="#2a8cff" stroke="#0050c0" stroke-width="0.4"/>
<circle cx="32.83" cy="269.53" r="0.76" fill="#bfe0ff" opacity="0.7"/>
<circle cx="56.3" cy="253.71" r="2.35" fill="#2a8cff" stroke="#0050c0" stroke-width="0.4"/>
<circle cx="55.59" cy="252.89" r="0.94" fill="#bfe0ff" opacity="0.7"/>
<circle cx="79.2" cy="238.65" r="2.35" fill="#2a8cff" stroke="#0050c0" stroke-width="0.4"/>
<circle cx="78.49" cy="237.83" r="0.94" fill="#bfe0ff" opacity="0.7"/>
<circle cx="102.1" cy="222.16" r="2.35" fill="#2a8cff" stroke="#0050c0" stroke-width="0.4"/>
<circle cx="101.39" cy="221.34" r="0.94" fill="#bfe0ff" opacity="0.7"/>
<circle cx="125" cy="205.39" r="2.35" fill="#2a8cff" stroke="#0050c0" stroke-width="0.4"/>
<circle cx="124.3" cy="204.57" r="0.94" fill="#bfe0ff" opacity="0.7"/>
<circle cx="147.9" cy="187.48" r="2.35" fill="#2a8cff" stroke="#0050c0" stroke-width="0.4"/>
<circle cx="147.19" cy="186.66" r="0.94" fill="#bfe0ff" opacity="0.7"/>
<circle cx="170.8" cy="171.99" r="2.35" fill="#2a8cff" stroke="#0050c0" stroke-width="0.4"/>
<circle cx="170.09" cy="171.17" r="0.94" fill="#bfe0ff" opacity="0.7"/>
<rect x="33.4" y="156.5" width="148.8" height="113.7" fill="none" stroke="#8c8c8c" stroke-width="1"/>
<circle cx="47.6" cy="164.3" r="2.3" fill="#2f2f2f" stroke="#111" stroke-width="0.4"/>
<circle cx="46.91" cy="163.5" r="0.92" fill="#888" opacity="0.7"/>
<text x="55.5" y="166.9" font-size="6.9" fill="#1e1e1e" stroke="#1e1e1e" stroke-width="0.13">GQDs/MoSe<tspan dy="1.7" font-size="4.6">2</tspan></text>
<circle cx="47.6" cy="174.45" r="2.3" fill="#ff3333" stroke="#b00" stroke-width="0.4"/>
<circle cx="46.91" cy="173.65" r="0.92" fill="#ffaaaa" opacity="0.7"/>
<text x="55.5" y="177.05" font-size="6.9" fill="#1e1e1e" stroke="#1e1e1e" stroke-width="0.13">N-GQDs/MoSe<tspan dy="1.7" font-size="4.6">2</tspan></text>
<circle cx="47.6" cy="184.6" r="2.3" fill="#2a8cff" stroke="#0050c0" stroke-width="0.4"/>
<circle cx="46.91" cy="183.8" r="0.92" fill="#bfe0ff" opacity="0.7"/>
<text x="55.5" y="187.2" font-size="6.9" fill="#1e1e1e" stroke="#1e1e1e" stroke-width="0.13">N,S-GQDs/MoSe<tspan dy="1.7" font-size="4.6">2</tspan></text>
</g>
<g id="e">
<text x="185.9" y="163.5" font-size="17" text-anchor="start" fill="#1e1e1e"  stroke="#1e1e1e" stroke-width="0.13">e</text>
<line x1="202.4" y1="270" x2="202.4" y2="272" stroke="#8c8c8c" stroke-width="1" />
<text x="202.4" y="278.4" font-size="6.8" text-anchor="middle" fill="#1e1e1e"  stroke="#1e1e1e" stroke-width="0.13">300</text>
<line x1="225.05" y1="270" x2="225.05" y2="272" stroke="#8c8c8c" stroke-width="1" />
<text x="225.05" y="278.4" font-size="6.8" text-anchor="middle" fill="#1e1e1e"  stroke="#1e1e1e" stroke-width="0.13">400</text>
<line x1="247.7" y1="270" x2="247.7" y2="272" stroke="#8c8c8c" stroke-width="1" />
<text x="247.7" y="278.4" font-size="6.8" text-anchor="middle" fill="#1e1e1e"  stroke="#1e1e1e" stroke-width="0.13">500</text>
<line x1="270.35" y1="270" x2="270.35" y2="272" stroke="#8c8c8c" stroke-width="1" />
<text x="270.35" y="278.4" font-size="6.8" text-anchor="middle" fill="#1e1e1e"  stroke="#1e1e1e" stroke-width="0.13">600</text>
<line x1="293" y1="270" x2="293" y2="272" stroke="#8c8c8c" stroke-width="1" />
<text x="293" y="278.4" font-size="6.8" text-anchor="middle" fill="#1e1e1e"  stroke="#1e1e1e" stroke-width="0.13">700</text>
<line x1="315.65" y1="270" x2="315.65" y2="272" stroke="#8c8c8c" stroke-width="1" />
<text x="315.65" y="278.4" font-size="6.8" text-anchor="middle" fill="#1e1e1e"  stroke="#1e1e1e" stroke-width="0.13">800</text>
<line x1="338.3" y1="270" x2="338.3" y2="272" stroke="#8c8c8c" stroke-width="1" />
<text x="338.3" y="278.4" font-size="6.8" text-anchor="middle" fill="#1e1e1e"  stroke="#1e1e1e" stroke-width="0.13">900</text>
<line x1="213.72" y1="270" x2="213.72" y2="271.2" stroke="#8c8c8c" stroke-width="1" />
<line x1="236.38" y1="270" x2="236.38" y2="271.2" stroke="#8c8c8c" stroke-width="1" />
<line x1="259.02" y1="270" x2="259.02" y2="271.2" stroke="#8c8c8c" stroke-width="1" />
<line x1="281.68" y1="270" x2="281.68" y2="271.2" stroke="#8c8c8c" stroke-width="1" />
<line x1="304.32" y1="270" x2="304.32" y2="271.2" stroke="#8c8c8c" stroke-width="1" />
<line x1="326.98" y1="270" x2="326.98" y2="271.2" stroke="#8c8c8c" stroke-width="1" />
<line x1="349.62" y1="270" x2="349.62" y2="271.2" stroke="#8c8c8c" stroke-width="1" />
<text transform="translate(196,212.5) rotate(-90)" font-size="8.8" text-anchor="middle" fill="#1e1e1e" stroke="#1e1e1e" stroke-width="0.13">Absorbance (a.u.)</text>
<text x="277.8" y="286" font-size="8.6" text-anchor="middle" fill="#1e1e1e"  stroke="#1e1e1e" stroke-width="0.13">Wavelength (nm)</text>
<path d="M202.8,236 C202.92,233.67 203.22,226.33 203.5,222 C203.78,217.67 204.08,213.5 204.5,210 C204.92,206.5 205.42,203.08 206,201 C206.58,198.92 207.33,198.58 208,197.5 C208.67,196.42 209.42,195.33 210,194.5 C210.58,193.67 211,192.67 211.5,192.5 C212,192.33 212.42,192.75 213,193.5 C213.58,194.25 214.18,195.58 215,197 C215.82,198.42 217.07,202 217.9,202 C218.73,202 219.32,198.83 220,197 C220.68,195.17 221.28,192.67 222,191 C222.72,189.33 223.63,188.17 224.3,187 C224.97,185.83 225.47,184.17 226,184 C226.53,183.83 227,186.5 227.5,186 C228,185.5 228.42,181.67 229,181 C229.58,180.33 230.33,182.33 231,182 C231.67,181.67 232.33,179.33 233,179 C233.67,178.67 234.33,180.33 235,180 C235.67,179.67 236.18,177.57 237,177 C237.82,176.43 239.07,176.43 239.9,176.6 C240.73,176.77 241.32,176.77 242,178 C242.68,179.23 243.28,180.33 244,184 C244.72,187.67 245.47,195.33 246.3,200 C247.13,204.67 247.88,208.5 249,212 C250.12,215.5 251.02,218.12 253,221 C254.98,223.88 258.07,226.97 260.9,229.3 C263.73,231.63 266.52,233.27 270,235 C273.48,236.73 277.63,238.37 281.8,239.7 C285.97,241.03 289.77,241.95 295,243 C300.23,244.05 307.37,245.28 313.2,246 C319.03,246.72 323.87,247 330,247.3 C336.13,247.6 346.67,247.72 350,247.8" fill="none" stroke="#222" stroke-width="1.3" stroke-linejoin="round" stroke-linecap="round"/>
<path d="M202.8,236 C202.92,233.67 203.22,226.33 203.5,222 C203.78,217.67 204.08,213.5 204.5,210 C204.92,206.5 205.42,203.08 206,201 C206.58,198.92 207.33,198.58 208,197.5 C208.67,196.42 209.42,195.33 210,194.5 C210.58,193.67 211,192.67 211.5,192.5 C212,192.33 212.42,192.75 213,193.5 C213.58,194.25 214.18,195.58 215,197 C215.82,198.42 217.07,202 217.9,202 C218.73,202 219.32,198.83 220,197 C220.68,195.17 221.28,192.67 222,191 C222.72,189.33 223.63,187.92 224.3,187 C224.97,186.08 225.38,186.17 226,185.5 C226.62,184.83 227.33,183.33 228,183 C228.67,182.67 229.33,183.83 230,183.5 C230.67,183.17 231.33,181.42 232,181 C232.67,180.58 233.33,181.42 234,181 C234.67,180.58 235.33,178.92 236,178.5 C236.67,178.08 237.25,178.75 238,178.5 C238.75,178.25 239.67,177.17 240.5,177 C241.33,176.83 242.08,176.83 243,177.5 C243.92,178.17 245.08,178.92 246,181 C246.92,183.08 247.75,186.83 248.5,190 C249.25,193.17 249.58,196.33 250.5,200 C251.42,203.67 252.42,208.33 254,212 C255.58,215.67 257.1,218.77 260,222 C262.9,225.23 267.23,228.82 271.4,231.4 C275.57,233.98 279.77,235.77 285,237.5 C290.23,239.23 296.13,240.55 302.8,241.8 C309.47,243.05 317.13,244.13 325,245 C332.87,245.87 345.83,246.67 350,247" fill="none" stroke="#2b2bff" stroke-width="1.3" stroke-linejoin="round" stroke-linecap="round"/>
<path d="M202.8,236 C202.92,233.67 203.22,226.33 203.5,222 C203.78,217.67 204.08,213.5 204.5,210 C204.92,206.5 205.42,203.08 206,201 C206.58,198.92 207.33,198.58 208,197.5 C208.67,196.42 209.42,195.33 210,194.5 C210.58,193.67 211,192.67 211.5,192.5 C212,192.33 212.42,192.75 213,193.5 C213.58,194.25 214.18,195.58 215,197 C215.82,198.42 217.07,202 217.9,202 C218.73,202 219.32,198.83 220,197 C220.68,195.17 221.28,192.67 222,191 C222.72,189.33 223.63,187.83 224.3,187 C224.97,186.17 225.38,186.42 226,186 C226.62,185.58 227.33,184.75 228,184.5 C228.67,184.25 229.33,184.83 230,184.5 C230.67,184.17 231.33,182.83 232,182.5 C232.67,182.17 233.33,182.92 234,182.5 C234.67,182.08 235.33,180.42 236,180 C236.67,179.58 237.33,180.25 238,180 C238.67,179.75 239.33,178.92 240,178.5 C240.67,178.08 241.2,178 242,177.5 C242.8,177 243.97,175.67 244.8,175.5 C245.63,175.33 246.22,175.58 247,176.5 C247.78,177.42 248.67,178.75 249.5,181 C250.33,183.25 250.97,186.83 252,190 C253.03,193.17 254.37,196.67 255.7,200 C257.03,203.33 258.28,207 260,210 C261.72,213 263.05,215.13 266,218 C268.95,220.87 272.87,224.28 277.7,227.2 C282.53,230.12 289.08,233.23 295,235.5 C300.92,237.77 307.37,239.47 313.2,240.8 C319.03,242.13 323.87,242.7 330,243.5 C336.13,244.3 346.67,245.25 350,245.6" fill="none" stroke="#ff2222" stroke-width="1.3" stroke-linejoin="round" stroke-linecap="round"/>
<rect x="202.4" y="156.5" width="147.9" height="113.5" fill="none" stroke="#8c8c8c" stroke-width="1"/>
<line x1="208.2" y1="242.8" x2="221.7" y2="242.8" stroke="#333" stroke-width="1.6" />
<text x="224.5" y="245.1" font-size="6.6" fill="#1e1e1e" stroke="#1e1e1e" stroke-width="0.13">GQDs/MoSe<tspan dy="1.5" font-size="4.4">2</tspan></text>
<line x1="208.2" y1="251.9" x2="221.7" y2="251.9" stroke="#3b3bff" stroke-width="1.6" />
<text x="224.5" y="254.2" font-size="6.6" fill="#1e1e1e" stroke="#1e1e1e" stroke-width="0.13">N-GQDs/MoSe<tspan dy="1.5" font-size="4.4">2</tspan></text>
<line x1="208.2" y1="261" x2="221.7" y2="261" stroke="#ff2a2a" stroke-width="1.6" />
<text x="224.5" y="263.3" font-size="6.6" fill="#1e1e1e" stroke="#1e1e1e" stroke-width="0.13">N,S-GQDs/MoSe<tspan dy="1.5" font-size="4.4">2</tspan></text>
<rect x="276" y="156.6" width="70.6" height="62.5" fill="#fff" stroke="#8c8c8c" stroke-width="1"/>
<text x="276" y="224" font-size="4.3" text-anchor="middle" fill="#444"  stroke="#444" stroke-width="0.13">450</text>
<text x="287.77" y="224" font-size="4.3" text-anchor="middle" fill="#444"  stroke="#444" stroke-width="0.13">500</text>
<text x="299.53" y="224" font-size="4.3" text-anchor="middle" fill="#444"  stroke="#444" stroke-width="0.13">550</text>
<text x="311.3" y="224" font-size="4.3" text-anchor="middle" fill="#444"  stroke="#444" stroke-width="0.13">600</text>
<text x="323.07" y="224" font-size="4.3" text-anchor="middle" fill="#444"  stroke="#444" stroke-width="0.13">650</text>
<text x="334.83" y="224" font-size="4.3" text-anchor="middle" fill="#444"  stroke="#444" stroke-width="0.13">700</text>
<text x="346.6" y="224" font-size="4.3" text-anchor="middle" fill="#444"  stroke="#444" stroke-width="0.13">750</text>
<polyline points="297.42,207.95 298.12,206.82 298.83,205.5 299.53,203.96 300.24,202.21 300.95,200.23 301.65,198.04 302.36,195.64 303.06,193.07 303.77,190.34 304.48,187.51 305.18,184.63 305.89,181.75 306.59,178.94 307.3,176.27 308.01,173.81 308.71,171.63 309.42,169.8 310.12,168.37 310.83,167.38 311.54,166.87 312.24,166.82 312.95,166.98 313.65,167.32 314.36,167.82 315.07,168.48 315.77,169.29 316.48,170.25 317.18,171.34 317.89,172.56 318.6,173.88 319.3,175.3 320.01,176.8 320.71,178.37 321.42,180 322.13,181.66 322.83,183.35 323.54,185.05 324.24,186.75 324.95,188.43 325.66,190.09 326.36,191.71 327.07,193.29 327.77,194.82 328.48,196.28 329.19,197.69 329.89,199.02 330.6,200.28 331.3,201.46 332.01,202.57 332.72,203.6 333.42,204.56 334.13,205.44 334.83,206.25 335.54,206.99 336.25,207.66 336.95,208.26 337.66,208.81 338.36,209.3 339.07,209.74 339.78,210.13 340.48,210.47 341.19,210.77 341.89,211.04 342.6,211.27 343.31,211.47 344.01,211.65 344.72,211.8 345.42,211.93 346.13,212.04" fill="none" stroke="#ff7a22" stroke-width="1.2" stroke-linejoin="round" stroke-linecap="round" />
<polyline points="289.41,208 290.12,206.95 290.83,205.73 291.53,204.32 292.24,202.72 292.94,200.93 293.65,198.94 294.36,196.77 295.06,194.42 295.77,191.93 296.47,189.32 297.18,186.63 297.89,183.91 298.59,181.21 299.3,178.58 300,176.09 300.71,173.78 301.42,171.73 302.12,169.98 302.83,168.57 303.53,167.56 304.24,166.97 304.95,166.8 305.65,166.88 306.36,167.1 307.06,167.44 307.77,167.91 308.48,168.5 309.18,169.21 309.89,170.02 310.59,170.95 311.3,171.97 312.01,173.07 312.71,174.26 313.42,175.52 314.12,176.84 314.83,178.21 315.54,179.63 316.24,181.07 316.95,182.54 317.65,184.03 318.36,185.52 319.07,187 319.77,188.47 320.48,189.92 321.18,191.35 321.89,192.74 322.6,194.1 323.3,195.41 324.01,196.68 324.71,197.89 325.42,199.05 326.13,200.15 326.83,201.2 327.54,202.19 328.24,203.12 328.95,203.99 329.66,204.81 330.36,205.57 331.07,206.27 331.77,206.92 332.48,207.51 333.19,208.06 333.89,208.56 334.6,209.01 335.3,209.43 336.01,209.8 336.72,210.14 337.42,210.44 338.13,210.71 338.83,210.95 339.54,211.17 340.25,211.36 340.95,211.52 341.66,211.67 342.36,211.8 343.07,211.92 343.78,212.02 344.48,212.1 345.19,212.18 345.89,212.24 346.6,212.3" fill="none" stroke="#ffcc11" stroke-width="1.2" stroke-linejoin="round" stroke-linecap="round" />
<polyline points="280.94,208.76 281.65,207.89 282.35,206.88 283.06,205.72 283.77,204.39 284.47,202.88 285.18,201.2 285.88,199.35 286.59,197.32 287.3,195.13 288,192.81 288.71,190.36 289.41,187.83 290.12,185.24 290.83,182.65 291.53,180.09 292.24,177.62 292.94,175.28 293.65,173.13 294.36,171.21 295.06,169.57 295.77,168.26 296.47,167.29 297.18,166.7 297.89,166.5 298.59,166.56 299.3,166.75 300,167.05 300.71,167.48 301.42,168.02 302.12,168.67 302.83,169.42 303.53,170.28 304.24,171.23 304.95,172.27 305.65,173.39 306.36,174.58 307.06,175.83 307.77,177.13 308.48,178.48 309.18,179.87 309.89,181.28 310.59,182.71 311.3,184.16 312.01,185.6 312.71,187.04 313.42,188.47 314.12,189.88 314.83,191.27 315.54,192.62 316.24,193.94 316.95,195.21 317.65,196.45 318.36,197.63 319.07,198.77 319.77,199.85 320.48,200.88 321.18,201.86 321.89,202.78 322.6,203.65 323.3,204.46 324.01,205.21 324.71,205.92 325.42,206.57 326.13,207.18 326.83,207.73 327.54,208.25 328.24,208.71 328.95,209.14 329.66,209.53 330.36,209.88 331.07,210.2 331.77,210.49 332.48,210.74 333.19,210.97 333.89,211.18 334.6,211.36 335.3,211.52 336.01,211.67 336.72,211.79 337.42,211.91 338.13,212 338.83,212.09 339.54,212.16 340.25,212.23 340.95,212.28 341.66,212.33 342.36,212.37 343.07,212.41 343.78,212.44 344.48,212.46 345.19,212.49 345.89,212.51 346.6,212.52" fill="none" stroke="#2db02d" stroke-width="1.2" stroke-linejoin="round" stroke-linecap="round" />
<text transform="translate(273.6,187.3) rotate(-90)" font-size="6.3" text-anchor="middle" fill="#1e1e1e" stroke="#1e1e1e" stroke-width="0.13">PL intensity (a.u.)</text>
<text x="311" y="229.6" font-size="6.3" text-anchor="middle" fill="#1e1e1e"  stroke="#1e1e1e" stroke-width="0.13">Wavelength (nm)</text>
<text transform="translate(289.0,181.5) rotate(-71)" font-size="4.8" fill="#3a3a3a" text-anchor="middle" stroke="#3a3a3a" stroke-width="0.13">GQDs</text>
<text transform="translate(296.0,185.0) rotate(-72.5)" font-size="4.8" fill="#333" text-anchor="middle" stroke="#333" stroke-width="0.13">N-GQDs</text>
<text transform="translate(303.3,189.0) rotate(-74)" font-size="4.8" fill="#333" text-anchor="middle" stroke="#333" stroke-width="0.13">N,S-GQDs</text>
</g>
<g id="f">
<text x="358.5" y="164.9" font-size="17" text-anchor="start" fill="#1e1e1e"  stroke="#1e1e1e" stroke-width="0.13">f</text>
<line x1="367.6" y1="157.5" x2="367.6" y2="271.6" stroke="#8c8c8c" stroke-width="1" />
<line x1="367.6" y1="271.6" x2="519.2" y2="271.6" stroke="#8c8c8c" stroke-width="1" />
<line x1="388" y1="271.6" x2="388" y2="273.6" stroke="#8c8c8c" stroke-width="1" />
<text x="388" y="280.2" font-size="6.6" text-anchor="middle" fill="#1e1e1e"  stroke="#1e1e1e" stroke-width="0.13">16.0</text>
<line x1="425" y1="271.6" x2="425" y2="273.6" stroke="#8c8c8c" stroke-width="1" />
<text x="425" y="280.2" font-size="6.6" text-anchor="middle" fill="#1e1e1e"  stroke="#1e1e1e" stroke-width="0.13">16.5</text>
<line x1="462" y1="271.6" x2="462" y2="273.6" stroke="#8c8c8c" stroke-width="1" />
<text x="462" y="280.2" font-size="6.6" text-anchor="middle" fill="#1e1e1e"  stroke="#1e1e1e" stroke-width="0.13">17.0</text>
<line x1="499" y1="271.6" x2="499" y2="273.6" stroke="#8c8c8c" stroke-width="1" />
<text x="499" y="280.2" font-size="6.6" text-anchor="middle" fill="#1e1e1e"  stroke="#1e1e1e" stroke-width="0.13">17.5</text>
<line x1="369.5" y1="271.6" x2="369.5" y2="272.8" stroke="#8c8c8c" stroke-width="1" />
<line x1="406.5" y1="271.6" x2="406.5" y2="272.8" stroke="#8c8c8c" stroke-width="1" />
<line x1="443.5" y1="271.6" x2="443.5" y2="272.8" stroke="#8c8c8c" stroke-width="1" />
<line x1="480.5" y1="271.6" x2="480.5" y2="272.8" stroke="#8c8c8c" stroke-width="1" />
<line x1="517.5" y1="271.6" x2="517.5" y2="272.8" stroke="#8c8c8c" stroke-width="1" />
<text transform="translate(363.8,205) rotate(-90)" font-size="8.8" text-anchor="middle" fill="#1e1e1e" stroke="#1e1e1e" stroke-width="0.13">Intensity (a.u.)</text>
<text x="443.5" y="288.6" font-size="8.9" text-anchor="middle" fill="#1e1e1e"  stroke="#1e1e1e" stroke-width="0.13">Binding energy (eV)</text>
<path d="M368,158.3 C368.83,158.35 371.52,158.4 373,158.6 C374.48,158.8 375.73,158.88 376.9,159.5 C378.07,160.12 378.73,161.05 380,162.3 C381.27,163.55 382.92,164.8 384.5,167 C386.08,169.2 387.48,171 389.5,175.5 C391.52,180 394.52,187.75 396.6,194 C398.68,200.25 400.27,206.83 402,213 C403.73,219.17 405.5,225.5 407,231 C408.5,236.5 409.83,241.83 411,246 C412.17,250.17 413.08,253 414,256 C414.92,259 415.67,261.92 416.5,264 C417.33,266.08 418.08,267.47 419,268.5 C419.92,269.53 420.17,269.85 422,270.2 C423.83,270.55 413.83,270.53 430,270.6 C446.17,270.67 504.17,270.6 519,270.6" fill="none" stroke="#ff2222" stroke-width="1.3" stroke-linejoin="round" stroke-linecap="round"/>
<path d="M368,167.4 C369.17,167.33 372.5,167.15 375,167 C377.5,166.85 380.5,166.83 383,166.5 C385.5,166.17 387.73,165.58 390,165 C392.27,164.42 394.6,163.67 396.6,163 C398.6,162.33 400.02,161.63 402,161 C403.98,160.37 406.83,159.45 408.5,159.2 C410.17,158.95 410.92,159.2 412,159.5 C413.08,159.8 413.83,159.92 415,161 C416.17,162.08 417.48,163.57 419,166 C420.52,168.43 422.27,171.27 424.1,175.6 C425.93,179.93 428.02,185.77 430,192 C431.98,198.23 434.17,206.33 436,213 C437.83,219.67 439.33,226.17 441,232 C442.67,237.83 444.5,243.5 446,248 C447.5,252.5 448.83,256.08 450,259 C451.17,261.92 452,263.87 453,265.5 C454,267.13 454.83,268 456,268.8 C457.17,269.6 457.67,270 460,270.3 C462.33,270.6 460.17,270.55 470,270.6 C479.83,270.65 510.83,270.6 519,270.6" fill="none" stroke="#2b2bff" stroke-width="1.3" stroke-linejoin="round" stroke-linecap="round"/>
<text transform="translate(397.6,235.8) rotate(71.8)" font-size="6.9" fill="#ff2222" text-anchor="middle" stroke="#ff2222" stroke-width="0.13">MoSe<tspan dy="1.9" font-size="4.4">2</tspan><tspan dy="-1.9"> cut-off 16.4 eV</tspan></text>
<text transform="translate(430.2,230.2) rotate(72.9)" font-size="6.8" fill="#2b2bff" text-anchor="middle" stroke="#2b2bff" stroke-width="0.13">N,S-GQD cut-off 16.8 eV</text>
<text x="418.5" y="157.4" font-size="7.6" fill="#222" stroke="#222" stroke-width="0.13">E<tspan dy="1.7" font-size="4.5">0</tspan><tspan dy="-1.7"> (eV)</tspan></text>
<line x1="443.6" y1="154.2" x2="536" y2="154.2" stroke="#333" stroke-width="1.2" stroke-dasharray="1.2,1.25"/>
<defs><linearGradient id="gb" x1="0" y1="0" x2="0" y2="1"><stop offset="0" stop-color="#cddcf3"/><stop offset="1" stop-color="#6e94d2"/></linearGradient><marker id="ah" viewBox="0 0 6 6" refX="5" refY="3" markerWidth="4.5" markerHeight="4.5" orient="auto-start-reverse"><path d="M0,0.6 L6,3 L0,5.4 z" fill="#222"/></marker><marker id="ahr" viewBox="0 0 6 6" refX="5" refY="3" markerWidth="4" markerHeight="4" orient="auto"><path d="M0,0 L6,3 L0,6 z" fill="#ff2222"/></marker><marker id="aho" viewBox="0 0 6 6" refX="3" refY="3" markerWidth="2.6" markerHeight="2.6" orient="auto"><path d="M0,0 L6,3 L0,6 z" fill="#ee9a6a"/></marker><marker id="ahb" viewBox="0 0 6 6" refX="3" refY="3" markerWidth="2.6" markerHeight="2.6" orient="auto"><path d="M0,0 L6,3 L0,6 z" fill="#7fa3d6"/></marker></defs>
<rect x="444" y="198.4" width="43.2" height="16.9" fill="url(#gb)"/>
<line x1="444" y1="198.6" x2="487.2" y2="198.6" stroke="#333" stroke-width="1.2" stroke-dasharray="1.2,1.25"/>
<line x1="450.4" y1="156" x2="450.4" y2="196.6" stroke="#222" stroke-width="0.7" marker-start="url(#ah)" marker-end="url(#ah)"/>
<rect x="433" y="172" width="36" height="8.4" fill="#fff"/>
<text x="433" y="178.6" font-size="8" fill="#222" stroke="#222" stroke-width="0.13">Φ<tspan font-size="5.2">MoSe</tspan><tspan dy="1.5" font-size="3.6">2</tspan><tspan dy="-1.5" font-size="7.8">~4.6</tspan></text>
<line x1="457" y1="216.8" x2="487.3" y2="216.8" stroke="#111" stroke-width="2.2" />
<text x="448.8" y="231.2" font-size="7.9" fill="#222" stroke="#222" stroke-width="0.13">MoSe<tspan dy="1.9" font-size="5">2</tspan></text>
<line x1="490.6" y1="176.1" x2="531.1" y2="176.1" stroke="#111" stroke-width="3.0" />
<line x1="490.3" y1="223.2" x2="531.1" y2="223.2" stroke="#111" stroke-width="3.0" />
<text x="532.5" y="180.0" font-size="7.5" fill="#222" stroke="#222" stroke-width="0.13">3.94</text>
<text x="532.3" y="227.8" font-size="7.5" fill="#222" stroke="#222" stroke-width="0.13">5.99</text>
<line x1="490.3" y1="184.3" x2="536" y2="184.3" stroke="#333" stroke-width="1.2" stroke-dasharray="1.2,1.25"/>
<line x1="526.4" y1="155.5" x2="526.4" y2="183.1" stroke="#222" stroke-width="0.7" marker-start="url(#ah)" marker-end="url(#ah)"/>
<rect x="520.8" y="161.3" width="21.5" height="8" fill="#fff"/>
<text x="521" y="168.2" font-size="7.8" fill="#222" stroke="#222" stroke-width="0.13">Φ~4.2</text>
<text x="532.5" y="190.8" font-size="8.6" fill="#222" stroke="#222" stroke-width="0.13">E<tspan dy="1.8" font-size="5">f</tspan></text>
<line x1="509.2" y1="222" x2="509.2" y2="180" stroke="#ff2222" stroke-width="0.9" marker-end="url(#ahr)"/>
<text x="478.6" y="175.2" font-size="8.8" fill="#222" stroke="#222" stroke-width="0.13">e<tspan dy="-3.6" font-size="5">-</tspan></text>
<text x="496.2" y="173.2" font-size="8.8" fill="#222" stroke="#222" stroke-width="0.13">e<tspan dy="-3.6" font-size="5">-</tspan></text>
<text x="511.2" y="173.2" font-size="8.8" fill="#222" stroke="#222" stroke-width="0.13">e<tspan dy="-3.6" font-size="5">-</tspan></text>
<text x="496.6" y="232.6" font-size="8.8" fill="#222" stroke="#222" stroke-width="0.13">h<tspan dy="-3.6" font-size="5">+</tspan></text>
<text x="512.6" y="232.6" font-size="8.8" fill="#222" stroke="#222" stroke-width="0.13">h<tspan dy="-3.6" font-size="5">+</tspan></text>
<text x="478.8" y="243.6" font-size="8.8" fill="#222" stroke="#222" stroke-width="0.13">h<tspan dy="-3.6" font-size="5">+</tspan></text>
<text x="497.8" y="247.6" font-size="8.0" fill="#222" stroke="#222" stroke-width="0.13">N,S-GQD</text>
<path d="M491,179.2 C482,176.5 473.5,180 474.2,188.5 C474.5,191 475.5,192.5 476.6,194" fill="none" stroke="#ee9a6a" stroke-width="2.6" marker-end="url(#aho)"/>
<path d="M493,226.3 C489,233.5 481,235.5 477,231.5 C475.5,229.5 475,226 475,222" fill="none" stroke="#7fa3d6" stroke-width="2.6" marker-end="url(#ahb)"/>
</g>
<g id="g">
<text x="6.6" y="292" font-size="17" text-anchor="start" fill="#1e1e1e"  stroke="#1e1e1e" stroke-width="0.13">g</text>
<line x1="28.9" y1="297.8" x2="30.9" y2="297.8" stroke="#8c8c8c" stroke-width="1" />
<text x="29.3" y="299.9" font-size="7.2" text-anchor="end" fill="#1e1e1e"  stroke="#1e1e1e" stroke-width="0.13">5</text>
<line x1="28.9" y1="318.4" x2="30.9" y2="318.4" stroke="#8c8c8c" stroke-width="1" />
<text x="29.3" y="320.5" font-size="7.2" text-anchor="end" fill="#1e1e1e"  stroke="#1e1e1e" stroke-width="0.13">0</text>
<line x1="28.9" y1="339" x2="30.9" y2="339" stroke="#8c8c8c" stroke-width="1" />
<text x="29.3" y="341.1" font-size="7.2" text-anchor="end" fill="#1e1e1e"  stroke="#1e1e1e" stroke-width="0.13">-5</text>
<line x1="28.9" y1="359.6" x2="30.9" y2="359.6" stroke="#8c8c8c" stroke-width="1" />
<text x="29.3" y="361.7" font-size="7.2" text-anchor="end" fill="#1e1e1e"  stroke="#1e1e1e" stroke-width="0.13">-10</text>
<line x1="28.9" y1="380.2" x2="30.9" y2="380.2" stroke="#8c8c8c" stroke-width="1" />
<text x="29.3" y="382.3" font-size="7.2" text-anchor="end" fill="#1e1e1e"  stroke="#1e1e1e" stroke-width="0.13">-15</text>
<line x1="28.9" y1="400.8" x2="30.9" y2="400.8" stroke="#8c8c8c" stroke-width="1" />
<text x="29.3" y="402.9" font-size="7.2" text-anchor="end" fill="#1e1e1e"  stroke="#1e1e1e" stroke-width="0.13">-20</text>
<line x1="29.7" y1="308.1" x2="30.9" y2="308.1" stroke="#8c8c8c" stroke-width="1" />
<line x1="29.7" y1="328.7" x2="30.9" y2="328.7" stroke="#8c8c8c" stroke-width="1" />
<line x1="29.7" y1="349.3" x2="30.9" y2="349.3" stroke="#8c8c8c" stroke-width="1" />
<line x1="29.7" y1="369.9" x2="30.9" y2="369.9" stroke="#8c8c8c" stroke-width="1" />
<line x1="29.7" y1="390.5" x2="30.9" y2="390.5" stroke="#8c8c8c" stroke-width="1" />
<line x1="46.7" y1="411.5" x2="46.7" y2="413.5" stroke="#8c8c8c" stroke-width="1" />
<text x="46.7" y="420.5" font-size="7.2" text-anchor="middle" fill="#1e1e1e"  stroke="#1e1e1e" stroke-width="0.13">-0.2</text>
<line x1="66.2" y1="411.5" x2="66.2" y2="413.5" stroke="#8c8c8c" stroke-width="1" />
<text x="66.2" y="420.5" font-size="7.2" text-anchor="middle" fill="#1e1e1e"  stroke="#1e1e1e" stroke-width="0.13">0.0</text>
<line x1="85.7" y1="411.5" x2="85.7" y2="413.5" stroke="#8c8c8c" stroke-width="1" />
<text x="85.7" y="420.5" font-size="7.2" text-anchor="middle" fill="#1e1e1e"  stroke="#1e1e1e" stroke-width="0.13">0.2</text>
<line x1="105.2" y1="411.5" x2="105.2" y2="413.5" stroke="#8c8c8c" stroke-width="1" />
<text x="105.2" y="420.5" font-size="7.2" text-anchor="middle" fill="#1e1e1e"  stroke="#1e1e1e" stroke-width="0.13">0.4</text>
<line x1="124.7" y1="411.5" x2="124.7" y2="413.5" stroke="#8c8c8c" stroke-width="1" />
<text x="124.7" y="420.5" font-size="7.2" text-anchor="middle" fill="#1e1e1e"  stroke="#1e1e1e" stroke-width="0.13">0.6</text>
<line x1="144.2" y1="411.5" x2="144.2" y2="413.5" stroke="#8c8c8c" stroke-width="1" />
<text x="144.2" y="420.5" font-size="7.2" text-anchor="middle" fill="#1e1e1e"  stroke="#1e1e1e" stroke-width="0.13">0.8</text>
<line x1="163.7" y1="411.5" x2="163.7" y2="413.5" stroke="#8c8c8c" stroke-width="1" />
<text x="163.7" y="420.5" font-size="7.2" text-anchor="middle" fill="#1e1e1e"  stroke="#1e1e1e" stroke-width="0.13">1.0</text>
<line x1="36.95" y1="411.5" x2="36.95" y2="412.7" stroke="#8c8c8c" stroke-width="1" />
<line x1="56.45" y1="411.5" x2="56.45" y2="412.7" stroke="#8c8c8c" stroke-width="1" />
<line x1="75.95" y1="411.5" x2="75.95" y2="412.7" stroke="#8c8c8c" stroke-width="1" />
<line x1="95.45" y1="411.5" x2="95.45" y2="412.7" stroke="#8c8c8c" stroke-width="1" />
<line x1="114.95" y1="411.5" x2="114.95" y2="412.7" stroke="#8c8c8c" stroke-width="1" />
<line x1="134.45" y1="411.5" x2="134.45" y2="412.7" stroke="#8c8c8c" stroke-width="1" />
<line x1="153.95" y1="411.5" x2="153.95" y2="412.7" stroke="#8c8c8c" stroke-width="1" />
<line x1="173.45" y1="411.5" x2="173.45" y2="412.7" stroke="#8c8c8c" stroke-width="1" />
<text transform="translate(16,353.7) rotate(-90)" font-size="9.4" text-anchor="middle" fill="#1e1e1e" stroke="#1e1e1e" stroke-width="0.13">Current density (mA cm<tspan dy="-3" font-size="5.5">−2</tspan><tspan dy="3">)</tspan></text>
<text x="100" y="430.3" font-size="9.4" text-anchor="middle" fill="#1e1e1e"  stroke="#1e1e1e" stroke-width="0.13">Potential (V vs. RHE)</text>
<path d="M38.5,412 C38.9,406.67 40.22,391.17 40.9,380 C41.58,368.83 42.1,352.83 42.6,345 C43.1,337.17 43.42,336.1 43.9,333 C44.38,329.9 44.82,328.18 45.5,326.4 C46.18,324.62 47.08,323.4 48,322.3 C48.92,321.2 49.83,320.38 51,319.8 C52.17,319.22 53.42,319.02 55,318.8 C56.58,318.58 58,318.55 60.5,318.5 C63,318.45 60.08,318.5 70,318.5 C79.92,318.5 101.83,318.5 120,318.5 C138.17,318.5 169.17,318.5 179,318.5" fill="none" stroke="#333" stroke-width="1.3" stroke-linejoin="round" stroke-linecap="round"/>
<path d="M39.7,412 C40.1,406.67 41.42,391.17 42.1,380 C42.78,368.83 43.3,352.83 43.8,345 C44.3,337.17 44.62,336.1 45.1,333 C45.58,329.9 46.02,328.18 46.7,326.4 C47.38,324.62 48.28,323.4 49.2,322.3 C50.12,321.2 51.03,320.38 52.2,319.8 C53.37,319.22 54.62,319.02 56.2,318.8 C57.78,318.58 59.4,318.57 61.7,318.5 C64,318.43 65.2,318.48 70,318.4 C74.8,318.32 83.17,318.17 90.5,318 C97.83,317.83 104.08,317.63 114,317.4 C123.92,317.17 140.67,316.87 150,316.6 C159.33,316.33 165.17,316.07 170,315.8 C174.83,315.53 177.5,315.13 179,315" fill="none" stroke="#bdbdbd" stroke-width="1.3" stroke-linejoin="round" stroke-linecap="round"/>
<path d="M42.9,412 C43.3,406.67 44.62,391.17 45.3,380 C45.98,368.83 46.5,352.83 47,345 C47.5,337.17 47.82,336.1 48.3,333 C48.78,329.9 49.22,328.18 49.9,326.4 C50.58,324.62 51.48,323.4 52.4,322.3 C53.32,321.2 54.23,320.38 55.4,319.8 C56.57,319.22 57.82,319.02 59.4,318.8 C60.98,318.58 63.13,318.55 64.9,318.5 C66.67,318.45 60.82,318.5 70,318.5 C79.18,318.5 101.83,318.5 120,318.5 C138.17,318.5 169.17,318.5 179,318.5" fill="none" stroke="#2b2bff" stroke-width="1.3" stroke-linejoin="round" stroke-linecap="round"/>
<path d="M44.7,412 C45.1,406.67 46.42,391.17 47.1,380 C47.78,368.83 48.3,352.83 48.8,345 C49.3,337.17 49.62,336.1 50.1,333 C50.58,329.9 51.02,328.18 51.7,326.4 C52.38,324.62 53.28,323.4 54.2,322.3 C55.12,321.2 56.03,320.38 57.2,319.8 C58.37,319.22 59.62,319.02 61.2,318.8 C62.78,318.58 65.23,318.6 66.7,318.5 C68.17,318.4 67.78,318.35 70,318.2 C72.22,318.05 76.58,317.82 80,317.6 C83.42,317.38 84.83,317.37 90.5,316.9 C96.17,316.43 104.08,315.38 114,314.8 C123.92,314.22 140.67,313.82 150,313.4 C159.33,312.98 165.17,312.73 170,312.3 C174.83,311.87 177.5,311.05 179,310.8" fill="none" stroke="#2db02d" stroke-width="1.3" stroke-linejoin="round" stroke-linecap="round"/>
<path d="M46.4,412 C46.8,406.67 48.12,391.17 48.8,380 C49.48,368.83 50,352.83 50.5,345 C51,337.17 51.32,336.1 51.8,333 C52.28,329.9 52.72,328.18 53.4,326.4 C54.08,324.62 54.98,323.4 55.9,322.3 C56.82,321.2 57.73,320.38 58.9,319.8 C60.07,319.22 61.32,319.02 62.9,318.8 C64.48,318.58 67.22,318.55 68.4,318.5 C69.58,318.45 61.4,318.5 70,318.5 C78.6,318.5 101.83,318.5 120,318.5 C138.17,318.5 169.17,318.5 179,318.5" fill="none" stroke="#ff2222" stroke-width="1.3" stroke-linejoin="round" stroke-linecap="round"/>
<path d="M48.2,412 C48.6,406.67 49.92,391.17 50.6,380 C51.28,368.83 51.8,352.83 52.3,345 C52.8,337.17 53.12,336.1 53.6,333 C54.08,329.9 54.52,328.18 55.2,326.4 C55.88,324.62 56.78,323.4 57.7,322.3 C58.62,321.2 59.53,320.38 60.7,319.8 C61.87,319.22 63.15,319.05 64.7,318.8 C66.25,318.55 68.45,318.45 70,318.3 C71.55,318.15 72,318.32 74,317.9 C76,317.48 79.25,316.52 82,315.8 C84.75,315.08 87.17,314.23 90.5,313.6 C93.83,312.97 98.08,312.43 102,312 C105.92,311.57 106,311.37 114,311 C122,310.63 141.33,310.17 150,309.8 C158.67,309.43 162,309.13 166,308.8 C170,308.47 171.83,308.23 174,307.8 C176.17,307.37 178.17,306.47 179,306.2" fill="none" stroke="#ff33ff" stroke-width="1.3" stroke-linejoin="round" stroke-linecap="round"/>
<rect x="30.9" y="297.6" width="148.6" height="113.9" fill="none" stroke="#8c8c8c" stroke-width="1"/>
<line x1="96.4" y1="354.2" x2="109" y2="354.2" stroke="#444" stroke-width="1.3" />
<text x="110.6" y="356.5" font-size="6.4" fill="#1e1e1e" stroke="#1e1e1e" stroke-width="0.13">GQDs/MoSe<tspan dy="1.9" font-size="4.4">2</tspan><tspan dy="-1.9">&#160; dark</tspan></text>
<line x1="96.4" y1="363.15" x2="109" y2="363.15" stroke="#bdbdbd" stroke-width="1.3" />
<text x="110.6" y="365.45" font-size="6.4" fill="#1e1e1e" stroke="#1e1e1e" stroke-width="0.13">GQDs/MoSe<tspan dy="1.9" font-size="4.4">2</tspan><tspan dy="-1.9">&#160; light</tspan></text>
<line x1="96.4" y1="372.1" x2="109" y2="372.1" stroke="#2b2bff" stroke-width="1.3" />
<text x="110.6" y="374.4" font-size="6.4" fill="#1e1e1e" stroke="#1e1e1e" stroke-width="0.13">N-GQDs/MoSe<tspan dy="1.9" font-size="4.4">2</tspan><tspan dy="-1.9">&#160; dark</tspan></text>
<line x1="96.4" y1="381.05" x2="109" y2="381.05" stroke="#2db02d" stroke-width="1.3" />
<text x="110.6" y="383.35" font-size="6.4" fill="#1e1e1e" stroke="#1e1e1e" stroke-width="0.13">N-GQDs/MoSe<tspan dy="1.9" font-size="4.4">2</tspan><tspan dy="-1.9">&#160; light</tspan></text>
<line x1="96.4" y1="390" x2="109" y2="390" stroke="#ff2222" stroke-width="1.3" />
<text x="110.6" y="392.3" font-size="6.4" fill="#1e1e1e" stroke="#1e1e1e" stroke-width="0.13">N,S-GQDs/MoSe<tspan dy="1.9" font-size="4.4">2</tspan><tspan dy="-1.9">&#160; dark</tspan></text>
<line x1="96.4" y1="398.95" x2="109" y2="398.95" stroke="#ff33ff" stroke-width="1.3" />
<text x="110.6" y="401.25" font-size="6.4" fill="#1e1e1e" stroke="#1e1e1e" stroke-width="0.13">N,S-GQDs/MoSe<tspan dy="1.9" font-size="4.4">2</tspan><tspan dy="-1.9">&#160; light</tspan></text>
</g>
<g id="h">
<text x="181.6" y="295.1" font-size="17" text-anchor="start" fill="#1e1e1e"  stroke="#1e1e1e" stroke-width="0.13">h</text>
<line x1="205.5" y1="398" x2="207.5" y2="398" stroke="#8c8c8c" stroke-width="1" />
<text x="205.3" y="400.1" font-size="6.1" text-anchor="end" fill="#1e1e1e"  stroke="#1e1e1e" stroke-width="0.13">0.02</text>
<line x1="205.5" y1="372.7" x2="207.5" y2="372.7" stroke="#8c8c8c" stroke-width="1" />
<text x="205.3" y="374.8" font-size="6.1" text-anchor="end" fill="#1e1e1e"  stroke="#1e1e1e" stroke-width="0.13">0.04</text>
<line x1="205.5" y1="347.4" x2="207.5" y2="347.4" stroke="#8c8c8c" stroke-width="1" />
<text x="205.3" y="349.5" font-size="6.1" text-anchor="end" fill="#1e1e1e"  stroke="#1e1e1e" stroke-width="0.13">0.06</text>
<line x1="205.5" y1="322.1" x2="207.5" y2="322.1" stroke="#8c8c8c" stroke-width="1" />
<text x="205.3" y="324.2" font-size="6.1" text-anchor="end" fill="#1e1e1e"  stroke="#1e1e1e" stroke-width="0.13">0.08</text>
<line x1="205.5" y1="296.8" x2="207.5" y2="296.8" stroke="#8c8c8c" stroke-width="1" />
<text x="205.3" y="298.9" font-size="6.1" text-anchor="end" fill="#1e1e1e"  stroke="#1e1e1e" stroke-width="0.13">0.10</text>
<line x1="206.3" y1="385.35" x2="207.5" y2="385.35" stroke="#8c8c8c" stroke-width="1" />
<line x1="206.3" y1="360.05" x2="207.5" y2="360.05" stroke="#8c8c8c" stroke-width="1" />
<line x1="206.3" y1="334.75" x2="207.5" y2="334.75" stroke="#8c8c8c" stroke-width="1" />
<line x1="206.3" y1="309.45" x2="207.5" y2="309.45" stroke="#8c8c8c" stroke-width="1" />
<line x1="218.5" y1="410.5" x2="218.5" y2="412.5" stroke="#8c8c8c" stroke-width="1" />
<text x="218.5" y="419.5" font-size="6.6" text-anchor="middle" fill="#1e1e1e"  stroke="#1e1e1e" stroke-width="0.13">0.1</text>
<line x1="239.75" y1="410.5" x2="239.75" y2="412.5" stroke="#8c8c8c" stroke-width="1" />
<text x="239.75" y="419.5" font-size="6.6" text-anchor="middle" fill="#1e1e1e"  stroke="#1e1e1e" stroke-width="0.13">0.2</text>
<line x1="261" y1="410.5" x2="261" y2="412.5" stroke="#8c8c8c" stroke-width="1" />
<text x="261" y="419.5" font-size="6.6" text-anchor="middle" fill="#1e1e1e"  stroke="#1e1e1e" stroke-width="0.13">0.3</text>
<line x1="282.25" y1="410.5" x2="282.25" y2="412.5" stroke="#8c8c8c" stroke-width="1" />
<text x="282.25" y="419.5" font-size="6.6" text-anchor="middle" fill="#1e1e1e"  stroke="#1e1e1e" stroke-width="0.13">0.4</text>
<line x1="303.5" y1="410.5" x2="303.5" y2="412.5" stroke="#8c8c8c" stroke-width="1" />
<text x="303.5" y="419.5" font-size="6.6" text-anchor="middle" fill="#1e1e1e"  stroke="#1e1e1e" stroke-width="0.13">0.5</text>
<line x1="324.75" y1="410.5" x2="324.75" y2="412.5" stroke="#8c8c8c" stroke-width="1" />
<text x="324.75" y="419.5" font-size="6.6" text-anchor="middle" fill="#1e1e1e"  stroke="#1e1e1e" stroke-width="0.13">0.6</text>
<line x1="346" y1="410.5" x2="346" y2="412.5" stroke="#8c8c8c" stroke-width="1" />
<text x="346" y="419.5" font-size="6.6" text-anchor="middle" fill="#1e1e1e"  stroke="#1e1e1e" stroke-width="0.13">0.7</text>
<line x1="229.12" y1="410.5" x2="229.12" y2="411.7" stroke="#8c8c8c" stroke-width="1" />
<line x1="250.38" y1="410.5" x2="250.38" y2="411.7" stroke="#8c8c8c" stroke-width="1" />
<line x1="271.62" y1="410.5" x2="271.62" y2="411.7" stroke="#8c8c8c" stroke-width="1" />
<line x1="292.88" y1="410.5" x2="292.88" y2="411.7" stroke="#8c8c8c" stroke-width="1" />
<line x1="314.12" y1="410.5" x2="314.12" y2="411.7" stroke="#8c8c8c" stroke-width="1" />
<line x1="335.38" y1="410.5" x2="335.38" y2="411.7" stroke="#8c8c8c" stroke-width="1" />
<line x1="207.88" y1="410.5" x2="207.88" y2="411.7" stroke="#8c8c8c" stroke-width="1" />
<line x1="356.62" y1="410.5" x2="356.62" y2="411.7" stroke="#8c8c8c" stroke-width="1" />
<text transform="translate(189.6,354.5) rotate(-90)" font-size="9.4" text-anchor="middle" fill="#1e1e1e" stroke="#1e1e1e" stroke-width="0.13">Potential (V vs. RHE)</text>
<text x="282.7" y="428.2" font-size="9.5" text-anchor="middle" fill="#1e1e1e"  stroke="#1e1e1e" stroke-width="0.13">lg[current density (mA cm<tspan dy="-3" font-size="5.5">−2</tspan><tspan dy="3">)]</tspan></text>
<line x1="220.7" y1="370.42" x2="345.8" y2="310.34" stroke="#111" stroke-width="1.1"/>
<circle cx="220.7" cy="370.42" r="1.35" fill="#111"/>
<circle cx="232.07" cy="364.96" r="1.35" fill="#111"/>
<circle cx="243.45" cy="359.5" r="1.35" fill="#111"/>
<circle cx="254.82" cy="354.04" r="1.35" fill="#111"/>
<circle cx="266.19" cy="348.57" r="1.35" fill="#111"/>
<circle cx="277.56" cy="343.11" r="1.35" fill="#111"/>
<circle cx="288.94" cy="337.65" r="1.35" fill="#111"/>
<circle cx="300.31" cy="332.19" r="1.35" fill="#111"/>
<circle cx="311.68" cy="326.72" r="1.35" fill="#111"/>
<circle cx="323.05" cy="321.26" r="1.35" fill="#111"/>
<circle cx="334.43" cy="315.8" r="1.35" fill="#111"/>
<circle cx="345.8" cy="310.34" r="1.35" fill="#111"/>
<text transform="translate(323,315.6) rotate(-22)" font-size="6.5" fill="#222" stroke="#222" stroke-width="0.25" text-anchor="middle">79.1 mV dec<tspan dy="-2.6" font-size="4.2">−1</tspan></text>
<line x1="220.7" y1="374.6" x2="345.8" y2="316.79" stroke="#9a9a9a" stroke-width="1.1"/>
<circle cx="220.7" cy="374.6" r="1.35" fill="#888"/>
<circle cx="232.07" cy="369.34" r="1.35" fill="#888"/>
<circle cx="243.45" cy="364.09" r="1.35" fill="#888"/>
<circle cx="254.82" cy="358.83" r="1.35" fill="#888"/>
<circle cx="266.19" cy="353.58" r="1.35" fill="#888"/>
<circle cx="277.56" cy="348.32" r="1.35" fill="#888"/>
<circle cx="288.94" cy="343.06" r="1.35" fill="#888"/>
<circle cx="300.31" cy="337.81" r="1.35" fill="#888"/>
<circle cx="311.68" cy="332.55" r="1.35" fill="#888"/>
<circle cx="323.05" cy="327.3" r="1.35" fill="#888"/>
<circle cx="334.43" cy="322.04" r="1.35" fill="#888"/>
<circle cx="345.8" cy="316.79" r="1.35" fill="#888"/>
<text transform="translate(323.9,333.1) rotate(-22)" font-size="6.5" fill="#aaa" stroke="#aaa" stroke-width="0.25" text-anchor="middle">75.8 mV dec<tspan dy="-2.6" font-size="4.2">−1</tspan></text>
<line x1="220.7" y1="385.35" x2="345.8" y2="333.23" stroke="#2b2bff" stroke-width="1.1"/>
<circle cx="220.7" cy="385.35" r="1.35" fill="#2b2bff"/>
<circle cx="232.07" cy="380.61" r="1.35" fill="#2b2bff"/>
<circle cx="243.45" cy="375.87" r="1.35" fill="#2b2bff"/>
<circle cx="254.82" cy="371.14" r="1.35" fill="#2b2bff"/>
<circle cx="266.19" cy="366.4" r="1.35" fill="#2b2bff"/>
<circle cx="277.56" cy="361.66" r="1.35" fill="#2b2bff"/>
<circle cx="288.94" cy="356.92" r="1.35" fill="#2b2bff"/>
<circle cx="300.31" cy="352.18" r="1.35" fill="#2b2bff"/>
<circle cx="311.68" cy="347.45" r="1.35" fill="#2b2bff"/>
<circle cx="323.05" cy="342.71" r="1.35" fill="#2b2bff"/>
<circle cx="334.43" cy="337.97" r="1.35" fill="#2b2bff"/>
<circle cx="345.8" cy="333.23" r="1.35" fill="#2b2bff"/>
<text transform="translate(252.3,369.5) rotate(-23)" font-size="6.5" fill="#2b2bff" stroke="#2b2bff" stroke-width="0.25" text-anchor="middle">70.8 mV dec<tspan dy="-2.6" font-size="4.2">−1</tspan></text>
<line x1="220.7" y1="389.4" x2="345.8" y2="343.86" stroke="#1fa53a" stroke-width="1.1"/>
<circle cx="220.7" cy="389.4" r="1.35" fill="#1fa53a"/>
<circle cx="232.07" cy="385.26" r="1.35" fill="#1fa53a"/>
<circle cx="243.45" cy="381.12" r="1.35" fill="#1fa53a"/>
<circle cx="254.82" cy="376.98" r="1.35" fill="#1fa53a"/>
<circle cx="266.19" cy="372.84" r="1.35" fill="#1fa53a"/>
<circle cx="277.56" cy="368.7" r="1.35" fill="#1fa53a"/>
<circle cx="288.94" cy="364.56" r="1.35" fill="#1fa53a"/>
<circle cx="300.31" cy="360.42" r="1.35" fill="#1fa53a"/>
<circle cx="311.68" cy="356.28" r="1.35" fill="#1fa53a"/>
<circle cx="323.05" cy="352.14" r="1.35" fill="#1fa53a"/>
<circle cx="334.43" cy="348" r="1.35" fill="#1fa53a"/>
<circle cx="345.8" cy="343.86" r="1.35" fill="#1fa53a"/>
<text transform="translate(327.1,348.6) rotate(-22)" font-size="6.5" fill="#1fa53a" stroke="#1fa53a" stroke-width="0.25" text-anchor="middle">64.9 mV dec<tspan dy="-2.6" font-size="4.2">−1</tspan></text>
<line x1="220.7" y1="396.48" x2="345.8" y2="356.25" stroke="#ff2222" stroke-width="1.1"/>
<circle cx="220.7" cy="396.48" r="1.35" fill="#ff2222"/>
<circle cx="232.07" cy="392.83" r="1.35" fill="#ff2222"/>
<circle cx="243.45" cy="389.17" r="1.35" fill="#ff2222"/>
<circle cx="254.82" cy="385.51" r="1.35" fill="#ff2222"/>
<circle cx="266.19" cy="381.85" r="1.35" fill="#ff2222"/>
<circle cx="277.56" cy="378.2" r="1.35" fill="#ff2222"/>
<circle cx="288.94" cy="374.54" r="1.35" fill="#ff2222"/>
<circle cx="300.31" cy="370.88" r="1.35" fill="#ff2222"/>
<circle cx="311.68" cy="367.23" r="1.35" fill="#ff2222"/>
<circle cx="323.05" cy="363.57" r="1.35" fill="#ff2222"/>
<circle cx="334.43" cy="359.91" r="1.35" fill="#ff2222"/>
<circle cx="345.8" cy="356.26" r="1.35" fill="#ff2222"/>
<text transform="translate(308.9,365.1) rotate(-22)" font-size="6.5" fill="#ff2222" stroke="#ff2222" stroke-width="0.25" text-anchor="middle">60.4 mV dec<tspan dy="-2.6" font-size="4.2">−1</tspan></text>
<line x1="220.7" y1="400.53" x2="345.8" y2="365.11" stroke="#ff33ff" stroke-width="1.1"/>
<circle cx="220.7" cy="400.53" r="1.35" fill="#ff33ff"/>
<circle cx="232.07" cy="397.31" r="1.35" fill="#ff33ff"/>
<circle cx="243.45" cy="394.09" r="1.35" fill="#ff33ff"/>
<circle cx="254.82" cy="390.87" r="1.35" fill="#ff33ff"/>
<circle cx="266.19" cy="387.65" r="1.35" fill="#ff33ff"/>
<circle cx="277.56" cy="384.43" r="1.35" fill="#ff33ff"/>
<circle cx="288.94" cy="381.21" r="1.35" fill="#ff33ff"/>
<circle cx="300.31" cy="377.99" r="1.35" fill="#ff33ff"/>
<circle cx="311.68" cy="374.77" r="1.35" fill="#ff33ff"/>
<circle cx="323.05" cy="371.55" r="1.35" fill="#ff33ff"/>
<circle cx="334.43" cy="368.33" r="1.35" fill="#ff33ff"/>
<circle cx="345.8" cy="365.11" r="1.35" fill="#ff33ff"/>
<text transform="translate(278.7,392.5) rotate(-19)" font-size="6.5" fill="#ff33ff" stroke="#ff33ff" stroke-width="0.25" text-anchor="middle">57.3 mV dec<tspan dy="-2.6" font-size="4.2">−1</tspan></text>
<rect x="207.5" y="296.8" width="148.5" height="113.7" fill="none" stroke="#8c8c8c" stroke-width="1"/>
<circle cx="212.6" cy="301" r="1.3" fill="#111"/>
<text x="216.2" y="302.9" font-size="5.2" fill="#1e1e1e" stroke="#1e1e1e" stroke-width="0.13">GQDs/MoSe<tspan dy="1.2" font-size="3.5">2</tspan><tspan dy="-1.2">&#160; dark</tspan></text>
<circle cx="212.6" cy="307.96" r="1.3" fill="#999"/>
<text x="216.2" y="309.86" font-size="5.2" fill="#1e1e1e" stroke="#1e1e1e" stroke-width="0.13">GQDs/MoSe<tspan dy="1.2" font-size="3.5">2</tspan><tspan dy="-1.2">&#160; light</tspan></text>
<circle cx="212.6" cy="314.92" r="1.3" fill="#2b2bff"/>
<text x="216.2" y="316.82" font-size="5.2" fill="#1e1e1e" stroke="#1e1e1e" stroke-width="0.13">N-GQDs/MoSe<tspan dy="1.2" font-size="3.5">2</tspan><tspan dy="-1.2">&#160; dark</tspan></text>
<circle cx="212.6" cy="321.88" r="1.3" fill="#1fa53a"/>
<text x="216.2" y="323.78" font-size="5.2" fill="#1e1e1e" stroke="#1e1e1e" stroke-width="0.13">N-GQDs/MoSe<tspan dy="1.2" font-size="3.5">2</tspan><tspan dy="-1.2">&#160; light</tspan></text>
<circle cx="212.6" cy="328.84" r="1.3" fill="#ff2222"/>
<text x="216.2" y="330.74" font-size="5.2" fill="#1e1e1e" stroke="#1e1e1e" stroke-width="0.13">N,S-GQDs/MoSe<tspan dy="1.2" font-size="3.5">2</tspan><tspan dy="-1.2">&#160; dark</tspan></text>
<circle cx="212.6" cy="335.8" r="1.3" fill="#ff33ff"/>
<text x="216.2" y="337.7" font-size="5.2" fill="#1e1e1e" stroke="#1e1e1e" stroke-width="0.13">N,S-GQDs/MoSe<tspan dy="1.2" font-size="3.5">2</tspan><tspan dy="-1.2">&#160; light</tspan></text>
</g>
<g id="i">
<text x="362.2" y="298.1" font-size="17" text-anchor="start" fill="#1e1e1e"  stroke="#1e1e1e" stroke-width="0.13">i</text>
<line x1="382.6" y1="403.1" x2="384.6" y2="403.1" stroke="#8c8c8c" stroke-width="1" />
<text x="381.6" y="405.2" font-size="6.8" text-anchor="end" fill="#1e1e1e"  stroke="#1e1e1e" stroke-width="0.13">0.0</text>
<line x1="382.6" y1="386.7" x2="384.6" y2="386.7" stroke="#8c8c8c" stroke-width="1" />
<text x="381.6" y="388.8" font-size="6.8" text-anchor="end" fill="#1e1e1e"  stroke="#1e1e1e" stroke-width="0.13">0.2</text>
<line x1="382.6" y1="370.3" x2="384.6" y2="370.3" stroke="#8c8c8c" stroke-width="1" />
<text x="381.6" y="372.4" font-size="6.8" text-anchor="end" fill="#1e1e1e"  stroke="#1e1e1e" stroke-width="0.13">0.4</text>
<line x1="382.6" y1="353.9" x2="384.6" y2="353.9" stroke="#8c8c8c" stroke-width="1" />
<text x="381.6" y="356" font-size="6.8" text-anchor="end" fill="#1e1e1e"  stroke="#1e1e1e" stroke-width="0.13">0.6</text>
<line x1="382.6" y1="337.5" x2="384.6" y2="337.5" stroke="#8c8c8c" stroke-width="1" />
<text x="381.6" y="339.6" font-size="6.8" text-anchor="end" fill="#1e1e1e"  stroke="#1e1e1e" stroke-width="0.13">0.8</text>
<line x1="382.6" y1="321.1" x2="384.6" y2="321.1" stroke="#8c8c8c" stroke-width="1" />
<text x="381.6" y="323.2" font-size="6.8" text-anchor="end" fill="#1e1e1e"  stroke="#1e1e1e" stroke-width="0.13">1.0</text>
<line x1="382.6" y1="304.7" x2="384.6" y2="304.7" stroke="#8c8c8c" stroke-width="1" />
<text x="381.6" y="306.8" font-size="6.8" text-anchor="end" fill="#1e1e1e"  stroke="#1e1e1e" stroke-width="0.13">1.2</text>
<line x1="383.4" y1="394.9" x2="384.6" y2="394.9" stroke="#8c8c8c" stroke-width="1" />
<line x1="383.4" y1="378.5" x2="384.6" y2="378.5" stroke="#8c8c8c" stroke-width="1" />
<line x1="383.4" y1="362.1" x2="384.6" y2="362.1" stroke="#8c8c8c" stroke-width="1" />
<line x1="383.4" y1="345.7" x2="384.6" y2="345.7" stroke="#8c8c8c" stroke-width="1" />
<line x1="383.4" y1="329.3" x2="384.6" y2="329.3" stroke="#8c8c8c" stroke-width="1" />
<line x1="383.4" y1="312.9" x2="384.6" y2="312.9" stroke="#8c8c8c" stroke-width="1" />
<line x1="383.4" y1="411.3" x2="384.6" y2="411.3" stroke="#8c8c8c" stroke-width="1" />
<line x1="384.8" y1="411" x2="384.8" y2="413" stroke="#8c8c8c" stroke-width="1" />
<text x="384.8" y="419.5" font-size="6.8" text-anchor="middle" fill="#1e1e1e"  stroke="#1e1e1e" stroke-width="0.13">-1.2</text>
<line x1="414.08" y1="411" x2="414.08" y2="413" stroke="#8c8c8c" stroke-width="1" />
<text x="414.08" y="419.5" font-size="6.8" text-anchor="middle" fill="#1e1e1e"  stroke="#1e1e1e" stroke-width="0.13">-0.8</text>
<line x1="443.36" y1="411" x2="443.36" y2="413" stroke="#8c8c8c" stroke-width="1" />
<text x="443.36" y="419.5" font-size="6.8" text-anchor="middle" fill="#1e1e1e"  stroke="#1e1e1e" stroke-width="0.13">-0.4</text>
<line x1="472.64" y1="411" x2="472.64" y2="413" stroke="#8c8c8c" stroke-width="1" />
<text x="472.64" y="419.5" font-size="6.8" text-anchor="middle" fill="#1e1e1e"  stroke="#1e1e1e" stroke-width="0.13">0.0</text>
<line x1="501.92" y1="411" x2="501.92" y2="413" stroke="#8c8c8c" stroke-width="1" />
<text x="501.92" y="419.5" font-size="6.8" text-anchor="middle" fill="#1e1e1e"  stroke="#1e1e1e" stroke-width="0.13">0.4</text>
<line x1="531.2" y1="411" x2="531.2" y2="413" stroke="#8c8c8c" stroke-width="1" />
<text x="531.2" y="419.5" font-size="6.8" text-anchor="middle" fill="#1e1e1e"  stroke="#1e1e1e" stroke-width="0.13">0.8</text>
<line x1="399.44" y1="411" x2="399.44" y2="412.2" stroke="#8c8c8c" stroke-width="1" />
<line x1="428.72" y1="411" x2="428.72" y2="412.2" stroke="#8c8c8c" stroke-width="1" />
<line x1="458" y1="411" x2="458" y2="412.2" stroke="#8c8c8c" stroke-width="1" />
<line x1="487.28" y1="411" x2="487.28" y2="412.2" stroke="#8c8c8c" stroke-width="1" />
<line x1="516.56" y1="411" x2="516.56" y2="412.2" stroke="#8c8c8c" stroke-width="1" />
<text transform="translate(368,352.5) rotate(-90)" font-size="9.6" text-anchor="middle" fill="#1e1e1e" stroke="#1e1e1e" stroke-width="0.13">C<tspan dy="-3.4" font-size="6.2">−2</tspan><tspan dy="3.4"> (10</tspan><tspan dy="-3.4" font-size="6.2">8</tspan><tspan dy="3.4">F</tspan><tspan dy="-3.4" font-size="6.2">−2</tspan><tspan dy="3.4"> cm</tspan><tspan dy="-3.4" font-size="6.2">4</tspan><tspan dy="3.4">)</tspan></text>
<text x="458" y="429.1" font-size="9.4" text-anchor="middle" fill="#1e1e1e"  stroke="#1e1e1e" stroke-width="0.13">Potential (V vs. Ag/AgCl)</text>
<line x1="433.2" y1="403.2" x2="459.8" y2="403.2" stroke="#444" stroke-width="1.0" />
<path d="M388.65,404.15 L391.35,404.15 L390,401.58 z" fill="#2b2bff"/>
<circle cx="388.1" cy="403.0" r="1.55" fill="#ff2222"/>
<path d="M392.45,404.15 L395.15,404.15 L393.8,401.58 z" fill="#2b2bff"/>
<circle cx="391.9" cy="403.0" r="1.55" fill="#ff2222"/>
<path d="M396.25,404.15 L398.95,404.15 L397.6,401.58 z" fill="#2b2bff"/>
<circle cx="395.7" cy="403.0" r="1.55" fill="#ff2222"/>
<path d="M400.05,404.15 L402.75,404.15 L401.4,401.58 z" fill="#2b2bff"/>
<circle cx="399.5" cy="403.0" r="1.55" fill="#ff2222"/>
<path d="M403.85,404.15 L406.55,404.15 L405.2,401.58 z" fill="#2b2bff"/>
<circle cx="403.3" cy="403.0" r="1.55" fill="#ff2222"/>
<path d="M407.65,404.15 L410.35,404.15 L409,401.58 z" fill="#2b2bff"/>
<circle cx="407.1" cy="403.0" r="1.55" fill="#ff2222"/>
<path d="M411.45,404.15 L414.15,404.15 L412.8,401.58 z" fill="#2b2bff"/>
<circle cx="410.9" cy="403.0" r="1.55" fill="#ff2222"/>
<path d="M415.25,404.15 L417.95,404.15 L416.6,401.58 z" fill="#2b2bff"/>
<circle cx="414.7" cy="403.0" r="1.55" fill="#ff2222"/>
<path d="M419.05,404.15 L421.75,404.15 L420.4,401.58 z" fill="#2b2bff"/>
<circle cx="418.5" cy="403.0" r="1.55" fill="#ff2222"/>
<path d="M422.85,404.15 L425.55,404.15 L424.2,401.58 z" fill="#2b2bff"/>
<circle cx="422.3" cy="403.0" r="1.55" fill="#ff2222"/>
<path d="M426.65,404.15 L429.35,404.15 L428,401.58 z" fill="#2b2bff"/>
<circle cx="426.1" cy="403.0" r="1.55" fill="#ff2222"/>
<path d="M430.45,404.15 L433.15,404.15 L431.8,401.58 z" fill="#2b2bff"/>
<circle cx="429.9" cy="403.0" r="1.55" fill="#ff2222"/>
<path d="M435.35,399.08 L438.45,399.08 L436.9,402.03 z" fill="#ff2222"/>
<path d="M438.55,396.08 L441.65,396.08 L440.1,399.03 z" fill="#ff2222"/>
<path d="M441.95,392.58 L445.05,392.58 L443.5,395.53 z" fill="#ff2222"/>
<path d="M445.45,389.08 L448.55,389.08 L447,392.03 z" fill="#ff2222"/>
<path d="M449.05,385.58 L452.15,385.58 L450.6,388.53 z" fill="#ff2222"/>
<path d="M452.95,381.98 L456.05,381.98 L454.5,384.93 z" fill="#ff2222"/>
<path d="M457.25,378.48 L460.35,378.48 L458.8,381.43 z" fill="#ff2222"/>
<path d="M461.08,376.23 L464.18,376.23 L462.63,379.17 z" fill="#ff2222"/>
<path d="M464.91,374.55 L468.01,374.55 L466.46,377.5 z" fill="#ff2222"/>
<path d="M468.74,373.05 L471.84,373.05 L470.29,375.99 z" fill="#ff2222"/>
<path d="M472.58,371.64 L475.68,371.64 L474.13,374.58 z" fill="#ff2222"/>
<path d="M476.41,370.3 L479.51,370.3 L477.96,373.25 z" fill="#ff2222"/>
<path d="M480.24,369.02 L483.34,369.02 L481.79,371.96 z" fill="#ff2222"/>
<path d="M484.07,367.78 L487.17,367.78 L485.62,370.72 z" fill="#ff2222"/>
<path d="M487.9,366.57 L491,366.57 L489.45,369.51 z" fill="#ff2222"/>
<path d="M491.73,365.39 L494.83,365.39 L493.28,368.34 z" fill="#ff2222"/>
<path d="M495.57,364.24 L498.67,364.24 L497.12,367.19 z" fill="#ff2222"/>
<path d="M499.4,363.11 L502.5,363.11 L500.95,366.06 z" fill="#ff2222"/>
<path d="M503.23,362 L506.33,362 L504.78,364.95 z" fill="#ff2222"/>
<path d="M507.06,360.91 L510.16,360.91 L508.61,363.86 z" fill="#ff2222"/>
<path d="M510.89,359.84 L513.99,359.84 L512.44,362.79 z" fill="#ff2222"/>
<path d="M514.72,358.78 L517.82,358.78 L516.27,361.73 z" fill="#ff2222"/>
<path d="M518.56,357.74 L521.66,357.74 L520.11,360.68 z" fill="#ff2222"/>
<path d="M522.39,356.71 L525.49,356.71 L523.94,359.65 z" fill="#ff2222"/>
<path d="M526.22,355.69 L529.32,355.69 L527.77,358.63 z" fill="#ff2222"/>
<path d="M530.05,354.68 L533.15,354.68 L531.6,357.63 z" fill="#ff2222"/>
<path d="M438.05,396.32 L441.15,396.32 L439.6,393.37 z" fill="#2b2bff"/>
<path d="M440.85,392.82 L443.95,392.82 L442.4,389.87 z" fill="#2b2bff"/>
<path d="M443.65,388.52 L446.75,388.52 L445.2,385.57 z" fill="#2b2bff"/>
<path d="M446.45,384.32 L449.55,384.32 L448,381.37 z" fill="#2b2bff"/>
<path d="M449.45,379.82 L452.55,379.82 L451,376.87 z" fill="#2b2bff"/>
<path d="M452.75,375.22 L455.85,375.22 L454.3,372.27 z" fill="#2b2bff"/>
<path d="M456.43,372.43 L459.53,372.43 L457.98,369.48 z" fill="#2b2bff"/>
<path d="M460.11,370.42 L463.21,370.42 L461.66,367.48 z" fill="#2b2bff"/>
<path d="M463.79,368.64 L466.89,368.64 L465.34,365.7 z" fill="#2b2bff"/>
<path d="M467.47,366.99 L470.57,366.99 L469.02,364.04 z" fill="#2b2bff"/>
<path d="M471.15,365.42 L474.25,365.42 L472.7,362.48 z" fill="#2b2bff"/>
<path d="M474.84,363.93 L477.94,363.93 L476.39,360.98 z" fill="#2b2bff"/>
<path d="M478.52,362.48 L481.62,362.48 L480.07,359.54 z" fill="#2b2bff"/>
<path d="M482.2,361.09 L485.3,361.09 L483.75,358.14 z" fill="#2b2bff"/>
<path d="M485.88,359.73 L488.98,359.73 L487.43,356.78 z" fill="#2b2bff"/>
<path d="M489.56,358.4 L492.66,358.4 L491.11,355.45 z" fill="#2b2bff"/>
<path d="M493.24,357.1 L496.34,357.1 L494.79,354.16 z" fill="#2b2bff"/>
<path d="M496.92,355.83 L500.02,355.83 L498.47,352.88 z" fill="#2b2bff"/>
<path d="M500.6,354.58 L503.7,354.58 L502.15,351.63 z" fill="#2b2bff"/>
<path d="M504.28,353.35 L507.38,353.35 L505.83,350.41 z" fill="#2b2bff"/>
<path d="M507.96,352.14 L511.06,352.14 L509.51,349.2 z" fill="#2b2bff"/>
<path d="M511.65,350.95 L514.75,350.95 L513.2,348.01 z" fill="#2b2bff"/>
<path d="M515.33,349.78 L518.43,349.78 L516.88,346.83 z" fill="#2b2bff"/>
<path d="M519.01,348.62 L522.11,348.62 L520.56,345.67 z" fill="#2b2bff"/>
<path d="M522.69,347.47 L525.79,347.47 L524.24,344.53 z" fill="#2b2bff"/>
<path d="M526.37,346.34 L529.47,346.34 L527.92,343.39 z" fill="#2b2bff"/>
<path d="M530.05,345.22 L533.15,345.22 L531.6,342.27 z" fill="#2b2bff"/>
<line x1="436.9" y1="399.5" x2="455.2" y2="369.3" stroke="#2b2bff" stroke-width="1.0" />
<line x1="434.1" y1="402.3" x2="461.6" y2="376.6" stroke="#ff2222" stroke-width="1.0" />
<line x1="442.4" y1="403.2" x2="459.8" y2="338.2" stroke="#222" stroke-width="1.0" />
<rect x="460.25" y="336.85" width="2.7" height="2.7" fill="#111"/>
<rect x="463.93" y="332.82" width="2.7" height="2.7" fill="#111"/>
<rect x="467.62" y="330.21" width="2.7" height="2.7" fill="#111"/>
<rect x="471.3" y="327.95" width="2.7" height="2.7" fill="#111"/>
<rect x="474.99" y="325.91" width="2.7" height="2.7" fill="#111"/>
<rect x="478.67" y="324" width="2.7" height="2.7" fill="#111"/>
<rect x="482.36" y="322.2" width="2.7" height="2.7" fill="#111"/>
<rect x="486.04" y="320.48" width="2.7" height="2.7" fill="#111"/>
<rect x="489.72" y="318.83" width="2.7" height="2.7" fill="#111"/>
<rect x="493.41" y="317.23" width="2.7" height="2.7" fill="#111"/>
<rect x="497.09" y="315.68" width="2.7" height="2.7" fill="#111"/>
<rect x="500.78" y="314.18" width="2.7" height="2.7" fill="#111"/>
<rect x="504.46" y="312.72" width="2.7" height="2.7" fill="#111"/>
<rect x="508.14" y="311.28" width="2.7" height="2.7" fill="#111"/>
<rect x="511.83" y="309.88" width="2.7" height="2.7" fill="#111"/>
<rect x="515.51" y="308.51" width="2.7" height="2.7" fill="#111"/>
<rect x="519.2" y="307.16" width="2.7" height="2.7" fill="#111"/>
<rect x="522.88" y="305.84" width="2.7" height="2.7" fill="#111"/>
<rect x="526.57" y="304.53" width="2.7" height="2.7" fill="#111"/>
<rect x="530.25" y="303.25" width="2.7" height="2.7" fill="#111"/>
<rect x="442.85" y="393.65" width="2.7" height="2.7" fill="#111"/>
<rect x="450.15" y="367.05" width="2.7" height="2.7" fill="#111"/>
<rect x="453.85" y="352.45" width="2.7" height="2.7" fill="#111"/>
<rect x="457.45" y="343.25" width="2.7" height="2.7" fill="#111"/>
<rect x="439.1" y="399.0" width="2.8" height="2.8" fill="#fff" stroke="#111" stroke-width="0.8"/>
<rect x="384.6" y="297.5" width="148.4" height="113.5" fill="none" stroke="#8c8c8c" stroke-width="1"/>
<rect x="389.55" y="303.45" width="2.7" height="2.7" fill="#111"/>
<path d="M389.35,316.02 L392.45,316.02 L390.9,313.07 z" fill="#2b2bff"/>
<path d="M389.35,322.08 L392.45,322.08 L390.9,325.03 z" fill="#ff2222"/>
<text x="395" y="307.2" font-size="6.8" fill="#1e1e1e" stroke="#1e1e1e" stroke-width="0.13">GQDs/MoSe<tspan dy="1.5" font-size="4.5">2</tspan></text>
<text x="395" y="317.1" font-size="6.8" fill="#1e1e1e" stroke="#1e1e1e" stroke-width="0.13">N-GQDs/MoSe<tspan dy="1.5" font-size="4.5">2</tspan></text>
<text x="395" y="325.8" font-size="6.8" fill="#1e1e1e" stroke="#1e1e1e" stroke-width="0.13">N,S-GQDs/MoSe<tspan dy="1.5" font-size="4.5">2</tspan></text>
</g>
</svg></body></html>
